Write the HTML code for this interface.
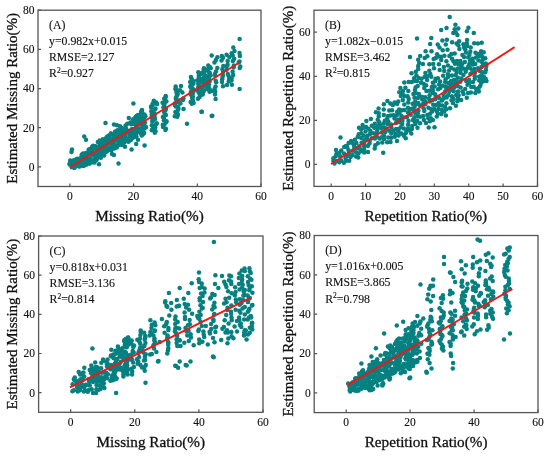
<!DOCTYPE html><html><head><meta charset="utf-8"><style>html,body{margin:0;padding:0;background:#fff;width:550px;height:457px;overflow:hidden}svg{display:block}</style></head><body><svg width="550" height="457" viewBox="0 0 550 457">
<rect width="550" height="457" fill="#fff"/>
<g fill="#068080"><circle cx="107.9" cy="148.5" r="2.25"/><circle cx="115.9" cy="137.3" r="2.25"/><circle cx="116.9" cy="135.9" r="2.25"/><circle cx="100.0" cy="155.2" r="2.25"/><circle cx="137.3" cy="131.5" r="2.25"/><circle cx="145.2" cy="116.1" r="2.25"/><circle cx="122.3" cy="144.9" r="2.25"/><circle cx="74.0" cy="164.1" r="2.25"/><circle cx="143.8" cy="117.8" r="2.25"/><circle cx="108.9" cy="149.2" r="2.25"/><circle cx="117.4" cy="130.2" r="2.25"/><circle cx="115.9" cy="138.3" r="2.25"/><circle cx="104.4" cy="152.4" r="2.25"/><circle cx="113.7" cy="141.6" r="2.25"/><circle cx="96.0" cy="148.6" r="2.25"/><circle cx="76.1" cy="159.5" r="2.25"/><circle cx="98.0" cy="147.9" r="2.25"/><circle cx="71.3" cy="162.0" r="2.25"/><circle cx="138.8" cy="121.7" r="2.25"/><circle cx="135.4" cy="130.1" r="2.25"/><circle cx="88.8" cy="149.5" r="2.25"/><circle cx="110.9" cy="133.4" r="2.25"/><circle cx="109.5" cy="137.6" r="2.25"/><circle cx="74.5" cy="167.7" r="2.25"/><circle cx="124.2" cy="134.7" r="2.25"/><circle cx="138.7" cy="128.8" r="2.25"/><circle cx="93.2" cy="154.7" r="2.25"/><circle cx="93.3" cy="155.4" r="2.25"/><circle cx="114.4" cy="137.1" r="2.25"/><circle cx="117.6" cy="132.7" r="2.25"/><circle cx="83.2" cy="153.4" r="2.25"/><circle cx="113.7" cy="135.1" r="2.25"/><circle cx="105.0" cy="140.4" r="2.25"/><circle cx="112.5" cy="141.3" r="2.25"/><circle cx="116.8" cy="147.4" r="2.25"/><circle cx="115.1" cy="138.5" r="2.25"/><circle cx="145.7" cy="126.9" r="2.25"/><circle cx="74.4" cy="167.7" r="2.25"/><circle cx="141.3" cy="113.8" r="2.25"/><circle cx="130.4" cy="131.6" r="2.25"/><circle cx="133.6" cy="137.2" r="2.25"/><circle cx="113.3" cy="137.2" r="2.25"/><circle cx="138.4" cy="123.9" r="2.25"/><circle cx="72.4" cy="166.3" r="2.25"/><circle cx="138.1" cy="131.6" r="2.25"/><circle cx="122.5" cy="134.3" r="2.25"/><circle cx="99.6" cy="144.0" r="2.25"/><circle cx="92.9" cy="146.2" r="2.25"/><circle cx="139.2" cy="119.5" r="2.25"/><circle cx="123.3" cy="134.7" r="2.25"/><circle cx="116.4" cy="138.1" r="2.25"/><circle cx="109.0" cy="135.6" r="2.25"/><circle cx="105.0" cy="145.5" r="2.25"/><circle cx="140.9" cy="133.3" r="2.25"/><circle cx="130.4" cy="122.7" r="2.25"/><circle cx="136.7" cy="117.8" r="2.25"/><circle cx="102.4" cy="144.6" r="2.25"/><circle cx="77.2" cy="161.5" r="2.25"/><circle cx="111.2" cy="148.0" r="2.25"/><circle cx="87.8" cy="153.5" r="2.25"/><circle cx="143.6" cy="115.6" r="2.25"/><circle cx="127.3" cy="138.8" r="2.25"/><circle cx="105.0" cy="152.4" r="2.25"/><circle cx="110.2" cy="139.8" r="2.25"/><circle cx="82.0" cy="155.2" r="2.25"/><circle cx="89.0" cy="159.5" r="2.25"/><circle cx="83.5" cy="154.9" r="2.25"/><circle cx="80.9" cy="158.6" r="2.25"/><circle cx="125.6" cy="125.6" r="2.25"/><circle cx="91.5" cy="153.0" r="2.25"/><circle cx="85.4" cy="162.5" r="2.25"/><circle cx="107.1" cy="150.9" r="2.25"/><circle cx="73.8" cy="160.6" r="2.25"/><circle cx="139.0" cy="129.8" r="2.25"/><circle cx="84.2" cy="165.4" r="2.25"/><circle cx="141.1" cy="132.3" r="2.25"/><circle cx="96.0" cy="156.4" r="2.25"/><circle cx="118.3" cy="140.5" r="2.25"/><circle cx="85.2" cy="162.0" r="2.25"/><circle cx="111.1" cy="150.6" r="2.25"/><circle cx="122.8" cy="129.2" r="2.25"/><circle cx="131.2" cy="124.3" r="2.25"/><circle cx="103.3" cy="153.1" r="2.25"/><circle cx="71.3" cy="164.7" r="2.25"/><circle cx="133.8" cy="130.7" r="2.25"/><circle cx="140.3" cy="122.5" r="2.25"/><circle cx="116.2" cy="134.6" r="2.25"/><circle cx="137.5" cy="117.8" r="2.25"/><circle cx="93.3" cy="145.7" r="2.25"/><circle cx="118.6" cy="136.9" r="2.25"/><circle cx="74.2" cy="162.3" r="2.25"/><circle cx="106.2" cy="151.8" r="2.25"/><circle cx="81.8" cy="159.4" r="2.25"/><circle cx="124.0" cy="132.1" r="2.25"/><circle cx="131.6" cy="134.1" r="2.25"/><circle cx="122.6" cy="135.7" r="2.25"/><circle cx="102.0" cy="151.6" r="2.25"/><circle cx="71.8" cy="167.2" r="2.25"/><circle cx="140.4" cy="131.9" r="2.25"/><circle cx="132.1" cy="129.6" r="2.25"/><circle cx="134.0" cy="123.0" r="2.25"/><circle cx="120.5" cy="132.7" r="2.25"/><circle cx="119.3" cy="138.2" r="2.25"/><circle cx="145.3" cy="116.5" r="2.25"/><circle cx="144.9" cy="127.5" r="2.25"/><circle cx="115.4" cy="135.7" r="2.25"/><circle cx="123.9" cy="131.2" r="2.25"/><circle cx="117.5" cy="138.6" r="2.25"/><circle cx="114.1" cy="147.6" r="2.25"/><circle cx="130.9" cy="134.0" r="2.25"/><circle cx="105.0" cy="149.8" r="2.25"/><circle cx="138.7" cy="119.5" r="2.25"/><circle cx="96.0" cy="159.3" r="2.25"/><circle cx="76.5" cy="165.5" r="2.25"/><circle cx="119.0" cy="133.6" r="2.25"/><circle cx="73.3" cy="162.3" r="2.25"/><circle cx="138.1" cy="128.2" r="2.25"/><circle cx="69.7" cy="163.6" r="2.25"/><circle cx="121.2" cy="130.6" r="2.25"/><circle cx="85.6" cy="161.5" r="2.25"/><circle cx="90.4" cy="149.0" r="2.25"/><circle cx="119.4" cy="137.0" r="2.25"/><circle cx="139.3" cy="131.0" r="2.25"/><circle cx="123.1" cy="136.5" r="2.25"/><circle cx="114.3" cy="148.2" r="2.25"/><circle cx="104.1" cy="155.5" r="2.25"/><circle cx="130.8" cy="122.4" r="2.25"/><circle cx="70.2" cy="160.4" r="2.25"/><circle cx="118.9" cy="142.2" r="2.25"/><circle cx="143.5" cy="128.1" r="2.25"/><circle cx="135.2" cy="134.5" r="2.25"/><circle cx="99.2" cy="153.7" r="2.25"/><circle cx="82.3" cy="154.5" r="2.25"/><circle cx="111.6" cy="148.7" r="2.25"/><circle cx="127.6" cy="130.8" r="2.25"/><circle cx="132.7" cy="137.8" r="2.25"/><circle cx="132.9" cy="123.6" r="2.25"/><circle cx="129.8" cy="135.9" r="2.25"/><circle cx="101.2" cy="145.6" r="2.25"/><circle cx="96.0" cy="159.1" r="2.25"/><circle cx="135.9" cy="125.3" r="2.25"/><circle cx="92.4" cy="161.4" r="2.25"/><circle cx="113.0" cy="146.4" r="2.25"/><circle cx="104.2" cy="143.3" r="2.25"/><circle cx="75.1" cy="161.2" r="2.25"/><circle cx="94.7" cy="146.8" r="2.25"/><circle cx="78.5" cy="165.5" r="2.25"/><circle cx="99.7" cy="140.6" r="2.25"/><circle cx="141.2" cy="117.1" r="2.25"/><circle cx="139.1" cy="129.5" r="2.25"/><circle cx="84.3" cy="153.8" r="2.25"/><circle cx="107.4" cy="138.8" r="2.25"/><circle cx="123.4" cy="143.2" r="2.25"/><circle cx="74.2" cy="165.8" r="2.25"/><circle cx="129.7" cy="131.8" r="2.25"/><circle cx="130.7" cy="137.4" r="2.25"/><circle cx="103.8" cy="141.3" r="2.25"/><circle cx="136.9" cy="127.0" r="2.25"/><circle cx="136.1" cy="134.6" r="2.25"/><circle cx="95.2" cy="158.6" r="2.25"/><circle cx="71.2" cy="163.7" r="2.25"/><circle cx="99.9" cy="155.2" r="2.25"/><circle cx="135.4" cy="117.6" r="2.25"/><circle cx="125.9" cy="128.3" r="2.25"/><circle cx="100.5" cy="151.4" r="2.25"/><circle cx="90.2" cy="158.4" r="2.25"/><circle cx="127.3" cy="131.9" r="2.25"/><circle cx="131.4" cy="133.4" r="2.25"/><circle cx="84.3" cy="156.9" r="2.25"/><circle cx="113.2" cy="143.6" r="2.25"/><circle cx="124.7" cy="134.1" r="2.25"/><circle cx="117.7" cy="131.3" r="2.25"/><circle cx="125.1" cy="136.3" r="2.25"/><circle cx="121.6" cy="127.8" r="2.25"/><circle cx="130.2" cy="137.4" r="2.25"/><circle cx="139.5" cy="119.7" r="2.25"/><circle cx="104.4" cy="145.7" r="2.25"/><circle cx="91.9" cy="147.3" r="2.25"/><circle cx="132.1" cy="129.4" r="2.25"/><circle cx="144.2" cy="126.5" r="2.25"/><circle cx="96.6" cy="160.1" r="2.25"/><circle cx="115.0" cy="132.2" r="2.25"/><circle cx="136.7" cy="116.0" r="2.25"/><circle cx="100.9" cy="155.5" r="2.25"/><circle cx="81.7" cy="154.7" r="2.25"/><circle cx="136.9" cy="121.4" r="2.25"/><circle cx="85.1" cy="160.7" r="2.25"/><circle cx="110.9" cy="147.3" r="2.25"/><circle cx="86.1" cy="160.7" r="2.25"/><circle cx="107.4" cy="144.6" r="2.25"/><circle cx="117.9" cy="140.8" r="2.25"/><circle cx="97.5" cy="153.9" r="2.25"/><circle cx="125.3" cy="138.7" r="2.25"/><circle cx="83.3" cy="155.9" r="2.25"/><circle cx="110.2" cy="142.2" r="2.25"/><circle cx="116.6" cy="132.2" r="2.25"/><circle cx="113.4" cy="144.2" r="2.25"/><circle cx="94.3" cy="154.6" r="2.25"/><circle cx="87.6" cy="162.8" r="2.25"/><circle cx="83.4" cy="165.8" r="2.25"/><circle cx="132.5" cy="124.0" r="2.25"/><circle cx="139.8" cy="129.2" r="2.25"/><circle cx="77.4" cy="161.7" r="2.25"/><circle cx="102.8" cy="146.0" r="2.25"/><circle cx="139.0" cy="118.7" r="2.25"/><circle cx="94.5" cy="154.3" r="2.25"/><circle cx="82.6" cy="161.0" r="2.25"/><circle cx="107.0" cy="142.2" r="2.25"/><circle cx="142.3" cy="126.6" r="2.25"/><circle cx="114.8" cy="146.3" r="2.25"/><circle cx="103.0" cy="139.5" r="2.25"/><circle cx="71.7" cy="163.2" r="2.25"/><circle cx="122.7" cy="136.2" r="2.25"/><circle cx="112.8" cy="147.0" r="2.25"/><circle cx="139.8" cy="122.1" r="2.25"/><circle cx="124.2" cy="134.3" r="2.25"/><circle cx="106.2" cy="140.0" r="2.25"/><circle cx="77.1" cy="158.8" r="2.25"/><circle cx="132.1" cy="123.5" r="2.25"/><circle cx="122.0" cy="144.4" r="2.25"/><circle cx="69.6" cy="164.5" r="2.25"/><circle cx="135.9" cy="116.7" r="2.25"/><circle cx="143.6" cy="117.5" r="2.25"/><circle cx="141.3" cy="117.5" r="2.25"/><circle cx="85.9" cy="155.8" r="2.25"/><circle cx="84.4" cy="165.0" r="2.25"/><circle cx="142.5" cy="115.7" r="2.25"/><circle cx="133.0" cy="136.1" r="2.25"/><circle cx="137.8" cy="121.5" r="2.25"/><circle cx="108.6" cy="149.3" r="2.25"/><circle cx="92.2" cy="162.2" r="2.25"/><circle cx="144.0" cy="117.0" r="2.25"/><circle cx="111.5" cy="150.0" r="2.25"/><circle cx="128.6" cy="141.7" r="2.25"/><circle cx="136.2" cy="118.7" r="2.25"/><circle cx="127.5" cy="140.1" r="2.25"/><circle cx="138.2" cy="115.5" r="2.25"/><circle cx="89.0" cy="150.0" r="2.25"/><circle cx="97.9" cy="142.1" r="2.25"/><circle cx="125.0" cy="132.1" r="2.25"/><circle cx="142.9" cy="121.3" r="2.25"/><circle cx="89.6" cy="159.8" r="2.25"/><circle cx="142.3" cy="116.7" r="2.25"/><circle cx="110.0" cy="143.4" r="2.25"/><circle cx="92.8" cy="153.2" r="2.25"/><circle cx="97.1" cy="155.0" r="2.25"/><circle cx="101.2" cy="152.5" r="2.25"/><circle cx="122.9" cy="134.0" r="2.25"/><circle cx="129.3" cy="134.7" r="2.25"/><circle cx="117.9" cy="133.4" r="2.25"/><circle cx="107.6" cy="148.7" r="2.25"/><circle cx="94.5" cy="146.8" r="2.25"/><circle cx="93.2" cy="154.5" r="2.25"/><circle cx="125.0" cy="128.7" r="2.25"/><circle cx="96.0" cy="155.9" r="2.25"/><circle cx="130.9" cy="139.9" r="2.25"/><circle cx="95.4" cy="147.3" r="2.25"/><circle cx="79.7" cy="163.4" r="2.25"/><circle cx="112.4" cy="143.1" r="2.25"/><circle cx="98.9" cy="147.2" r="2.25"/><circle cx="103.2" cy="142.1" r="2.25"/><circle cx="135.3" cy="130.0" r="2.25"/><circle cx="104.4" cy="147.4" r="2.25"/><circle cx="144.4" cy="128.6" r="2.25"/><circle cx="119.8" cy="138.5" r="2.25"/><circle cx="83.9" cy="159.8" r="2.25"/><circle cx="101.5" cy="147.3" r="2.25"/><circle cx="133.0" cy="131.0" r="2.25"/><circle cx="86.8" cy="154.1" r="2.25"/><circle cx="144.1" cy="122.2" r="2.25"/><circle cx="115.4" cy="131.5" r="2.25"/><circle cx="128.9" cy="140.6" r="2.25"/><circle cx="114.3" cy="148.3" r="2.25"/><circle cx="72.4" cy="161.3" r="2.25"/><circle cx="115.5" cy="131.9" r="2.25"/><circle cx="89.4" cy="163.7" r="2.25"/><circle cx="106.9" cy="148.3" r="2.25"/><circle cx="136.3" cy="136.2" r="2.25"/><circle cx="139.1" cy="121.3" r="2.25"/><circle cx="77.9" cy="165.1" r="2.25"/><circle cx="86.6" cy="152.8" r="2.25"/><circle cx="131.4" cy="129.6" r="2.25"/><circle cx="133.1" cy="119.2" r="2.25"/><circle cx="119.9" cy="129.9" r="2.25"/><circle cx="114.8" cy="144.6" r="2.25"/><circle cx="142.8" cy="117.3" r="2.25"/><circle cx="128.8" cy="139.6" r="2.25"/><circle cx="142.7" cy="119.2" r="2.25"/><circle cx="135.1" cy="136.6" r="2.25"/><circle cx="119.5" cy="143.8" r="2.25"/><circle cx="91.7" cy="151.1" r="2.25"/><circle cx="119.9" cy="140.1" r="2.25"/><circle cx="90.2" cy="158.5" r="2.25"/><circle cx="74.5" cy="162.0" r="2.25"/><circle cx="141.3" cy="118.1" r="2.25"/><circle cx="83.7" cy="163.6" r="2.25"/><circle cx="118.9" cy="138.2" r="2.25"/><circle cx="133.7" cy="136.2" r="2.25"/><circle cx="92.8" cy="147.4" r="2.25"/><circle cx="91.3" cy="162.3" r="2.25"/><circle cx="119.7" cy="137.2" r="2.25"/><circle cx="79.1" cy="166.6" r="2.25"/><circle cx="119.4" cy="144.8" r="2.25"/><circle cx="120.7" cy="133.4" r="2.25"/><circle cx="110.5" cy="139.4" r="2.25"/><circle cx="88.9" cy="154.6" r="2.25"/><circle cx="74.5" cy="165.4" r="2.25"/><circle cx="110.9" cy="133.8" r="2.25"/><circle cx="116.8" cy="146.5" r="2.25"/><circle cx="79.8" cy="166.2" r="2.25"/><circle cx="136.8" cy="117.6" r="2.25"/><circle cx="127.4" cy="123.8" r="2.25"/><circle cx="121.9" cy="136.3" r="2.25"/><circle cx="97.1" cy="150.0" r="2.25"/><circle cx="127.7" cy="141.0" r="2.25"/><circle cx="82.8" cy="165.8" r="2.25"/><circle cx="133.4" cy="133.0" r="2.25"/><circle cx="122.6" cy="138.0" r="2.25"/><circle cx="91.9" cy="147.6" r="2.25"/><circle cx="98.9" cy="150.7" r="2.25"/><circle cx="93.1" cy="149.1" r="2.25"/><circle cx="115.3" cy="145.9" r="2.25"/><circle cx="87.1" cy="158.3" r="2.25"/><circle cx="73.6" cy="160.6" r="2.25"/><circle cx="137.5" cy="115.6" r="2.25"/><circle cx="132.1" cy="135.0" r="2.25"/><circle cx="118.8" cy="143.0" r="2.25"/><circle cx="102.6" cy="150.6" r="2.25"/><circle cx="144.7" cy="122.9" r="2.25"/><circle cx="80.8" cy="160.0" r="2.25"/><circle cx="123.5" cy="139.5" r="2.25"/><circle cx="143.6" cy="114.8" r="2.25"/><circle cx="143.7" cy="124.6" r="2.25"/><circle cx="141.2" cy="111.8" r="2.25"/><circle cx="123.1" cy="141.1" r="2.25"/><circle cx="79.9" cy="158.5" r="2.25"/><circle cx="97.6" cy="157.5" r="2.25"/><circle cx="84.1" cy="154.6" r="2.25"/><circle cx="140.3" cy="115.0" r="2.25"/><circle cx="124.6" cy="136.4" r="2.25"/><circle cx="122.4" cy="130.4" r="2.25"/><circle cx="102.9" cy="139.4" r="2.25"/><circle cx="107.3" cy="136.4" r="2.25"/><circle cx="118.4" cy="132.6" r="2.25"/><circle cx="88.9" cy="159.2" r="2.25"/><circle cx="77.8" cy="160.2" r="2.25"/><circle cx="86.1" cy="164.7" r="2.25"/><circle cx="123.7" cy="138.7" r="2.25"/><circle cx="93.1" cy="160.3" r="2.25"/><circle cx="140.3" cy="123.9" r="2.25"/><circle cx="145.8" cy="127.2" r="2.25"/><circle cx="98.8" cy="154.6" r="2.25"/><circle cx="77.7" cy="164.0" r="2.25"/><circle cx="117.1" cy="139.9" r="2.25"/><circle cx="142.5" cy="121.4" r="2.25"/><circle cx="97.4" cy="152.0" r="2.25"/><circle cx="124.7" cy="141.9" r="2.25"/><circle cx="95.6" cy="146.3" r="2.25"/><circle cx="106.1" cy="138.1" r="2.25"/><circle cx="103.5" cy="140.6" r="2.25"/><circle cx="138.5" cy="115.0" r="2.25"/><circle cx="91.2" cy="153.3" r="2.25"/><circle cx="142.0" cy="110.0" r="2.25"/><circle cx="141.9" cy="111.5" r="2.25"/><circle cx="141.3" cy="111.9" r="2.25"/><circle cx="144.4" cy="114.5" r="2.25"/><circle cx="143.7" cy="115.4" r="2.25"/><circle cx="140.9" cy="116.3" r="2.25"/><circle cx="143.3" cy="118.2" r="2.25"/><circle cx="142.5" cy="119.0" r="2.25"/><circle cx="142.3" cy="121.2" r="2.25"/><circle cx="144.5" cy="122.2" r="2.25"/><circle cx="141.2" cy="122.8" r="2.25"/><circle cx="143.3" cy="124.6" r="2.25"/><circle cx="142.9" cy="125.8" r="2.25"/><circle cx="143.0" cy="127.3" r="2.25"/><circle cx="143.6" cy="128.7" r="2.25"/><circle cx="141.9" cy="129.8" r="2.25"/><circle cx="142.1" cy="130.9" r="2.25"/><circle cx="144.1" cy="132.9" r="2.25"/><circle cx="143.0" cy="133.9" r="2.25"/><circle cx="153.8" cy="100.7" r="2.25"/><circle cx="156.3" cy="102.4" r="2.25"/><circle cx="152.8" cy="103.4" r="2.25"/><circle cx="157.0" cy="103.9" r="2.25"/><circle cx="152.7" cy="105.0" r="2.25"/><circle cx="151.1" cy="106.6" r="2.25"/><circle cx="151.2" cy="107.5" r="2.25"/><circle cx="155.5" cy="108.5" r="2.25"/><circle cx="154.7" cy="109.7" r="2.25"/><circle cx="151.3" cy="111.3" r="2.25"/><circle cx="152.1" cy="112.7" r="2.25"/><circle cx="154.8" cy="114.0" r="2.25"/><circle cx="151.7" cy="114.6" r="2.25"/><circle cx="151.9" cy="116.5" r="2.25"/><circle cx="154.6" cy="117.0" r="2.25"/><circle cx="152.1" cy="118.0" r="2.25"/><circle cx="155.0" cy="119.0" r="2.25"/><circle cx="152.5" cy="121.0" r="2.25"/><circle cx="152.4" cy="121.6" r="2.25"/><circle cx="156.7" cy="123.2" r="2.25"/><circle cx="156.2" cy="124.2" r="2.25"/><circle cx="151.8" cy="125.3" r="2.25"/><circle cx="153.7" cy="126.0" r="2.25"/><circle cx="155.2" cy="127.6" r="2.25"/><circle cx="152.9" cy="128.3" r="2.25"/><circle cx="151.8" cy="130.2" r="2.25"/><circle cx="155.5" cy="131.2" r="2.25"/><circle cx="165.7" cy="96.0" r="2.25"/><circle cx="165.7" cy="96.9" r="2.25"/><circle cx="164.2" cy="98.8" r="2.25"/><circle cx="165.5" cy="100.7" r="2.25"/><circle cx="166.4" cy="101.6" r="2.25"/><circle cx="162.6" cy="102.8" r="2.25"/><circle cx="164.3" cy="103.9" r="2.25"/><circle cx="164.4" cy="106.1" r="2.25"/><circle cx="163.4" cy="107.3" r="2.25"/><circle cx="165.9" cy="108.7" r="2.25"/><circle cx="165.5" cy="109.9" r="2.25"/><circle cx="164.6" cy="111.0" r="2.25"/><circle cx="164.1" cy="112.1" r="2.25"/><circle cx="164.9" cy="114.5" r="2.25"/><circle cx="165.9" cy="114.9" r="2.25"/><circle cx="162.9" cy="117.0" r="2.25"/><circle cx="164.0" cy="118.0" r="2.25"/><circle cx="163.9" cy="120.2" r="2.25"/><circle cx="166.5" cy="121.3" r="2.25"/><circle cx="166.2" cy="121.9" r="2.25"/><circle cx="164.4" cy="124.5" r="2.25"/><circle cx="162.8" cy="124.8" r="2.25"/><circle cx="163.0" cy="127.0" r="2.25"/><circle cx="165.9" cy="128.8" r="2.25"/><circle cx="175.7" cy="86.4" r="2.25"/><circle cx="175.6" cy="88.4" r="2.25"/><circle cx="175.7" cy="89.4" r="2.25"/><circle cx="177.1" cy="90.5" r="2.25"/><circle cx="176.5" cy="92.5" r="2.25"/><circle cx="177.6" cy="93.5" r="2.25"/><circle cx="177.5" cy="94.8" r="2.25"/><circle cx="176.7" cy="96.1" r="2.25"/><circle cx="175.9" cy="97.9" r="2.25"/><circle cx="175.9" cy="99.0" r="2.25"/><circle cx="178.6" cy="100.5" r="2.25"/><circle cx="178.5" cy="102.5" r="2.25"/><circle cx="175.1" cy="103.3" r="2.25"/><circle cx="174.9" cy="104.9" r="2.25"/><circle cx="175.7" cy="106.5" r="2.25"/><circle cx="178.1" cy="107.1" r="2.25"/><circle cx="178.3" cy="108.2" r="2.25"/><circle cx="178.1" cy="109.8" r="2.25"/><circle cx="175.4" cy="112.0" r="2.25"/><circle cx="177.5" cy="113.4" r="2.25"/><circle cx="177.8" cy="115.0" r="2.25"/><circle cx="174.8" cy="116.2" r="2.25"/><circle cx="177.2" cy="116.8" r="2.25"/><circle cx="181.0" cy="86.1" r="2.25"/><circle cx="180.0" cy="90.3" r="2.25"/><circle cx="182.4" cy="92.5" r="2.25"/><circle cx="183.4" cy="98.5" r="2.25"/><circle cx="182.9" cy="99.9" r="2.25"/><circle cx="180.4" cy="103.4" r="2.25"/><circle cx="183.5" cy="108.9" r="2.25"/><circle cx="190.9" cy="77.0" r="2.25"/><circle cx="191.5" cy="78.8" r="2.25"/><circle cx="192.2" cy="80.2" r="2.25"/><circle cx="193.0" cy="81.0" r="2.25"/><circle cx="190.2" cy="81.9" r="2.25"/><circle cx="193.4" cy="83.6" r="2.25"/><circle cx="191.9" cy="85.4" r="2.25"/><circle cx="190.3" cy="86.2" r="2.25"/><circle cx="190.8" cy="87.8" r="2.25"/><circle cx="193.4" cy="89.3" r="2.25"/><circle cx="193.5" cy="91.0" r="2.25"/><circle cx="190.8" cy="92.0" r="2.25"/><circle cx="192.8" cy="93.7" r="2.25"/><circle cx="190.8" cy="94.5" r="2.25"/><circle cx="191.8" cy="95.6" r="2.25"/><circle cx="192.9" cy="97.1" r="2.25"/><circle cx="192.1" cy="98.1" r="2.25"/><circle cx="192.8" cy="100.2" r="2.25"/><circle cx="190.6" cy="102.1" r="2.25"/><circle cx="193.6" cy="103.1" r="2.25"/><circle cx="191.8" cy="103.8" r="2.25"/><circle cx="198.3" cy="72.2" r="2.25"/><circle cx="199.4" cy="73.7" r="2.25"/><circle cx="200.9" cy="73.9" r="2.25"/><circle cx="198.8" cy="75.7" r="2.25"/><circle cx="198.9" cy="77.4" r="2.25"/><circle cx="200.2" cy="78.6" r="2.25"/><circle cx="199.0" cy="80.3" r="2.25"/><circle cx="197.1" cy="80.4" r="2.25"/><circle cx="199.4" cy="82.2" r="2.25"/><circle cx="198.5" cy="83.2" r="2.25"/><circle cx="198.6" cy="84.4" r="2.25"/><circle cx="198.9" cy="86.2" r="2.25"/><circle cx="198.3" cy="87.6" r="2.25"/><circle cx="198.1" cy="89.2" r="2.25"/><circle cx="197.2" cy="90.3" r="2.25"/><circle cx="199.5" cy="92.0" r="2.25"/><circle cx="198.7" cy="92.6" r="2.25"/><circle cx="200.1" cy="94.6" r="2.25"/><circle cx="200.3" cy="95.3" r="2.25"/><circle cx="199.5" cy="97.1" r="2.25"/><circle cx="198.0" cy="98.7" r="2.25"/><circle cx="204.0" cy="68.3" r="2.25"/><circle cx="203.7" cy="69.6" r="2.25"/><circle cx="204.4" cy="70.9" r="2.25"/><circle cx="203.3" cy="72.4" r="2.25"/><circle cx="201.9" cy="73.0" r="2.25"/><circle cx="204.7" cy="74.9" r="2.25"/><circle cx="204.9" cy="75.5" r="2.25"/><circle cx="203.7" cy="77.9" r="2.25"/><circle cx="204.4" cy="78.7" r="2.25"/><circle cx="205.0" cy="80.7" r="2.25"/><circle cx="201.6" cy="80.9" r="2.25"/><circle cx="202.7" cy="82.8" r="2.25"/><circle cx="204.9" cy="84.6" r="2.25"/><circle cx="205.0" cy="85.6" r="2.25"/><circle cx="202.8" cy="86.8" r="2.25"/><circle cx="201.9" cy="88.9" r="2.25"/><circle cx="202.3" cy="89.6" r="2.25"/><circle cx="204.1" cy="90.5" r="2.25"/><circle cx="203.1" cy="91.9" r="2.25"/><circle cx="202.0" cy="94.0" r="2.25"/><circle cx="202.7" cy="94.5" r="2.25"/><circle cx="208.3" cy="65.5" r="2.25"/><circle cx="210.0" cy="67.3" r="2.25"/><circle cx="210.6" cy="68.3" r="2.25"/><circle cx="207.8" cy="69.3" r="2.25"/><circle cx="207.6" cy="70.7" r="2.25"/><circle cx="209.8" cy="73.0" r="2.25"/><circle cx="209.3" cy="74.1" r="2.25"/><circle cx="210.6" cy="75.4" r="2.25"/><circle cx="208.2" cy="76.8" r="2.25"/><circle cx="208.2" cy="77.5" r="2.25"/><circle cx="208.9" cy="78.9" r="2.25"/><circle cx="208.8" cy="79.7" r="2.25"/><circle cx="209.6" cy="81.6" r="2.25"/><circle cx="208.2" cy="83.4" r="2.25"/><circle cx="209.0" cy="84.4" r="2.25"/><circle cx="207.5" cy="86.0" r="2.25"/><circle cx="207.3" cy="86.6" r="2.25"/><circle cx="209.3" cy="88.3" r="2.25"/><circle cx="207.1" cy="89.1" r="2.25"/><circle cx="209.8" cy="90.8" r="2.25"/><circle cx="209.5" cy="91.8" r="2.25"/><circle cx="217.4" cy="57.2" r="2.25"/><circle cx="215.9" cy="60.1" r="2.25"/><circle cx="214.5" cy="62.5" r="2.25"/><circle cx="217.3" cy="68.1" r="2.25"/><circle cx="216.0" cy="71.4" r="2.25"/><circle cx="214.9" cy="73.9" r="2.25"/><circle cx="215.2" cy="75.5" r="2.25"/><circle cx="215.7" cy="80.7" r="2.25"/><circle cx="216.2" cy="82.2" r="2.25"/><circle cx="215.6" cy="86.6" r="2.25"/><circle cx="214.7" cy="88.8" r="2.25"/><circle cx="215.2" cy="91.4" r="2.25"/><circle cx="215.0" cy="94.5" r="2.25"/><circle cx="221.8" cy="55.9" r="2.25"/><circle cx="223.0" cy="57.8" r="2.25"/><circle cx="221.5" cy="60.5" r="2.25"/><circle cx="223.3" cy="65.9" r="2.25"/><circle cx="222.4" cy="69.2" r="2.25"/><circle cx="223.1" cy="71.8" r="2.25"/><circle cx="222.9" cy="74.9" r="2.25"/><circle cx="222.5" cy="77.0" r="2.25"/><circle cx="222.2" cy="79.2" r="2.25"/><circle cx="222.0" cy="81.9" r="2.25"/><circle cx="223.0" cy="86.2" r="2.25"/><circle cx="226.6" cy="54.8" r="2.25"/><circle cx="229.4" cy="57.0" r="2.25"/><circle cx="227.7" cy="61.0" r="2.25"/><circle cx="227.6" cy="64.7" r="2.25"/><circle cx="226.8" cy="66.3" r="2.25"/><circle cx="226.6" cy="69.7" r="2.25"/><circle cx="227.8" cy="74.0" r="2.25"/><circle cx="228.6" cy="75.9" r="2.25"/><circle cx="229.1" cy="79.0" r="2.25"/><circle cx="228.7" cy="81.5" r="2.25"/><circle cx="227.0" cy="84.9" r="2.25"/><circle cx="233.3" cy="47.6" r="2.25"/><circle cx="234.5" cy="50.9" r="2.25"/><circle cx="231.7" cy="53.2" r="2.25"/><circle cx="232.7" cy="55.4" r="2.25"/><circle cx="234.2" cy="58.8" r="2.25"/><circle cx="232.8" cy="61.0" r="2.25"/><circle cx="233.9" cy="65.4" r="2.25"/><circle cx="233.6" cy="67.4" r="2.25"/><circle cx="232.6" cy="71.8" r="2.25"/><circle cx="233.2" cy="75.0" r="2.25"/><circle cx="231.7" cy="78.1" r="2.25"/><circle cx="231.5" cy="80.5" r="2.25"/><circle cx="231.9" cy="84.8" r="2.25"/><circle cx="239.5" cy="52.9" r="2.25"/><circle cx="239.9" cy="56.1" r="2.25"/><circle cx="239.5" cy="61.4" r="2.25"/><circle cx="238.8" cy="62.4" r="2.25"/><circle cx="240.3" cy="66.4" r="2.25"/><circle cx="239.7" cy="68.0" r="2.25"/><circle cx="72.0" cy="149.5" r="2.25"/><circle cx="71.5" cy="152.0" r="2.25"/><circle cx="84.2" cy="136.5" r="2.25"/><circle cx="86.0" cy="139.8" r="2.25"/><circle cx="105.5" cy="123.1" r="2.25"/><circle cx="133.4" cy="103.4" r="2.25"/><circle cx="114.0" cy="124.4" r="2.25"/><circle cx="117.0" cy="125.2" r="2.25"/><circle cx="120.0" cy="126.2" r="2.25"/><circle cx="128.8" cy="117.9" r="2.25"/><circle cx="118.5" cy="163.4" r="2.25"/><circle cx="99.0" cy="164.3" r="2.25"/><circle cx="94.4" cy="162.5" r="2.25"/><circle cx="100.9" cy="157.8" r="2.25"/><circle cx="112.0" cy="154.1" r="2.25"/><circle cx="113.9" cy="155.0" r="2.25"/><circle cx="125.0" cy="146.7" r="2.25"/><circle cx="131.6" cy="149.5" r="2.25"/><circle cx="136.2" cy="143.9" r="2.25"/><circle cx="144.6" cy="145.4" r="2.25"/><circle cx="141.8" cy="135.5" r="2.25"/><circle cx="138.0" cy="139.8" r="2.25"/><circle cx="154.8" cy="132.8" r="2.25"/><circle cx="187.0" cy="123.7" r="2.25"/><circle cx="201.5" cy="111.8" r="2.25"/><circle cx="212.3" cy="115.7" r="2.25"/><circle cx="165.4" cy="130.0" r="2.25"/><circle cx="239.6" cy="38.9" r="2.25"/><circle cx="239.6" cy="89.0" r="2.25"/><circle cx="211.7" cy="55.6" r="2.25"/><circle cx="211.7" cy="91.0" r="2.25"/><circle cx="215.6" cy="98.9" r="2.25"/><circle cx="201.8" cy="111.7" r="2.25"/><circle cx="211.7" cy="116.0" r="2.25"/></g>
<line x1="70.2" y1="167.0" x2="239.8" y2="62.3" stroke="#f41414" stroke-width="1.9"/>
<rect x="38.0" y="10.2" width="223.0" height="176.3" fill="none" stroke="#555" stroke-width="1.3"/>
<path d="M69.9 186.5v-3 M133.6 186.5v-3 M197.3 186.5v-3 M261.0 186.5v-3 M38.0 166.9h3 M38.0 127.7h3 M38.0 88.6h3 M38.0 49.4h3 M38.0 10.2h3" stroke="#555" stroke-width="1.2" fill="none"/>
<g font-family="'Liberation Serif','Times New Roman',serif" font-size="11.5" fill="#111" stroke="#111" stroke-width="0.12"><text x="69.9" y="199.7" text-anchor="middle">0</text><text x="133.6" y="199.7" text-anchor="middle">20</text><text x="197.3" y="199.7" text-anchor="middle">40</text><text x="261.0" y="199.7" text-anchor="middle">60</text><text x="34.5" y="170.7" text-anchor="end">0</text><text x="34.5" y="131.5" text-anchor="end">20</text><text x="34.5" y="92.4" text-anchor="end">40</text><text x="34.5" y="53.2" text-anchor="end">60</text><text x="34.5" y="14.0" text-anchor="end">80</text></g>
<text font-family="'Liberation Serif','Times New Roman',serif" font-size="15.2" fill="#111" stroke="#111" stroke-width="0.3" x="149.5" y="221.0" text-anchor="middle">Missing Ratio(%)</text>
<text font-family="'Liberation Serif','Times New Roman',serif" font-size="15.0" fill="#111" stroke="#111" stroke-width="0.3" transform="translate(16.6,98.3) rotate(-90)" text-anchor="middle">Estimated Missing Ratio(%)</text>
<g font-family="'Liberation Serif','Times New Roman',serif" font-size="11.8" fill="#111" stroke="#111" stroke-width="0.12"><text x="49.0" y="28.7">(A)</text><text x="49.0" y="44.7">y=0.982x+0.015</text><text x="49.0" y="60.7">RMSE=2.127</text><text x="49.0" y="77.4">R<tspan font-size="7.5" dy="-4.5">2</tspan><tspan dy="4.5">=0.927</tspan></text></g>
<g fill="#068080"><circle cx="382.3" cy="142.6" r="2.25"/><circle cx="481.2" cy="75.4" r="2.25"/><circle cx="414.8" cy="121.7" r="2.25"/><circle cx="483.3" cy="81.2" r="2.25"/><circle cx="468.3" cy="66.5" r="2.25"/><circle cx="453.7" cy="91.2" r="2.25"/><circle cx="454.3" cy="69.4" r="2.25"/><circle cx="367.9" cy="145.9" r="2.25"/><circle cx="398.6" cy="135.5" r="2.25"/><circle cx="389.2" cy="130.8" r="2.25"/><circle cx="481.5" cy="67.1" r="2.25"/><circle cx="458.0" cy="98.1" r="2.25"/><circle cx="460.5" cy="72.8" r="2.25"/><circle cx="397.1" cy="111.9" r="2.25"/><circle cx="446.6" cy="97.5" r="2.25"/><circle cx="424.6" cy="77.1" r="2.25"/><circle cx="339.3" cy="162.2" r="2.25"/><circle cx="456.6" cy="43.5" r="2.25"/><circle cx="391.2" cy="137.7" r="2.25"/><circle cx="435.8" cy="96.7" r="2.25"/><circle cx="486.0" cy="69.8" r="2.25"/><circle cx="423.6" cy="108.2" r="2.25"/><circle cx="364.2" cy="152.4" r="2.25"/><circle cx="485.3" cy="58.2" r="2.25"/><circle cx="417.7" cy="116.3" r="2.25"/><circle cx="435.2" cy="99.3" r="2.25"/><circle cx="420.1" cy="105.4" r="2.25"/><circle cx="426.4" cy="91.1" r="2.25"/><circle cx="385.2" cy="132.0" r="2.25"/><circle cx="359.2" cy="146.3" r="2.25"/><circle cx="363.8" cy="135.8" r="2.25"/><circle cx="354.1" cy="146.0" r="2.25"/><circle cx="398.3" cy="101.4" r="2.25"/><circle cx="455.4" cy="24.7" r="2.25"/><circle cx="361.2" cy="138.0" r="2.25"/><circle cx="426.0" cy="123.1" r="2.25"/><circle cx="417.8" cy="98.0" r="2.25"/><circle cx="394.5" cy="118.4" r="2.25"/><circle cx="434.0" cy="68.3" r="2.25"/><circle cx="401.9" cy="110.3" r="2.25"/><circle cx="461.4" cy="78.4" r="2.25"/><circle cx="403.9" cy="128.4" r="2.25"/><circle cx="470.9" cy="92.6" r="2.25"/><circle cx="446.3" cy="109.2" r="2.25"/><circle cx="478.0" cy="68.3" r="2.25"/><circle cx="439.5" cy="47.6" r="2.25"/><circle cx="441.8" cy="109.9" r="2.25"/><circle cx="428.3" cy="118.3" r="2.25"/><circle cx="408.5" cy="121.0" r="2.25"/><circle cx="336.5" cy="160.9" r="2.25"/><circle cx="472.9" cy="64.5" r="2.25"/><circle cx="429.6" cy="95.3" r="2.25"/><circle cx="430.1" cy="44.0" r="2.25"/><circle cx="415.2" cy="113.1" r="2.25"/><circle cx="471.3" cy="87.1" r="2.25"/><circle cx="433.2" cy="104.7" r="2.25"/><circle cx="366.0" cy="127.0" r="2.25"/><circle cx="412.9" cy="120.0" r="2.25"/><circle cx="387.2" cy="142.3" r="2.25"/><circle cx="472.8" cy="61.6" r="2.25"/><circle cx="374.3" cy="127.7" r="2.25"/><circle cx="358.4" cy="153.5" r="2.25"/><circle cx="428.4" cy="107.7" r="2.25"/><circle cx="371.8" cy="125.7" r="2.25"/><circle cx="384.0" cy="139.1" r="2.25"/><circle cx="445.2" cy="81.9" r="2.25"/><circle cx="408.0" cy="107.8" r="2.25"/><circle cx="351.1" cy="141.1" r="2.25"/><circle cx="397.1" cy="104.0" r="2.25"/><circle cx="434.3" cy="109.1" r="2.25"/><circle cx="365.5" cy="131.4" r="2.25"/><circle cx="472.5" cy="58.7" r="2.25"/><circle cx="398.4" cy="131.5" r="2.25"/><circle cx="387.2" cy="118.7" r="2.25"/><circle cx="333.4" cy="161.1" r="2.25"/><circle cx="439.5" cy="105.3" r="2.25"/><circle cx="399.1" cy="122.2" r="2.25"/><circle cx="405.7" cy="133.2" r="2.25"/><circle cx="402.4" cy="121.0" r="2.25"/><circle cx="389.2" cy="110.6" r="2.25"/><circle cx="414.9" cy="89.9" r="2.25"/><circle cx="475.0" cy="72.7" r="2.25"/><circle cx="422.2" cy="99.5" r="2.25"/><circle cx="362.6" cy="125.0" r="2.25"/><circle cx="447.9" cy="74.2" r="2.25"/><circle cx="361.4" cy="133.2" r="2.25"/><circle cx="427.3" cy="76.2" r="2.25"/><circle cx="388.3" cy="121.5" r="2.25"/><circle cx="403.0" cy="91.0" r="2.25"/><circle cx="408.7" cy="99.0" r="2.25"/><circle cx="399.3" cy="92.3" r="2.25"/><circle cx="378.1" cy="125.7" r="2.25"/><circle cx="474.8" cy="78.8" r="2.25"/><circle cx="414.4" cy="117.2" r="2.25"/><circle cx="468.0" cy="93.1" r="2.25"/><circle cx="397.1" cy="119.9" r="2.25"/><circle cx="394.6" cy="102.5" r="2.25"/><circle cx="455.7" cy="75.0" r="2.25"/><circle cx="414.5" cy="97.7" r="2.25"/><circle cx="466.5" cy="68.9" r="2.25"/><circle cx="466.9" cy="31.2" r="2.25"/><circle cx="430.8" cy="118.3" r="2.25"/><circle cx="436.9" cy="111.4" r="2.25"/><circle cx="486.5" cy="81.1" r="2.25"/><circle cx="470.1" cy="60.4" r="2.25"/><circle cx="438.3" cy="56.4" r="2.25"/><circle cx="401.4" cy="115.9" r="2.25"/><circle cx="388.0" cy="115.9" r="2.25"/><circle cx="430.3" cy="74.1" r="2.25"/><circle cx="411.8" cy="108.7" r="2.25"/><circle cx="479.8" cy="70.9" r="2.25"/><circle cx="402.4" cy="93.8" r="2.25"/><circle cx="376.8" cy="136.4" r="2.25"/><circle cx="438.9" cy="64.3" r="2.25"/><circle cx="437.7" cy="44.6" r="2.25"/><circle cx="477.8" cy="53.9" r="2.25"/><circle cx="463.5" cy="94.0" r="2.25"/><circle cx="478.7" cy="88.1" r="2.25"/><circle cx="402.2" cy="124.1" r="2.25"/><circle cx="464.0" cy="56.9" r="2.25"/><circle cx="432.9" cy="90.2" r="2.25"/><circle cx="457.9" cy="68.5" r="2.25"/><circle cx="481.7" cy="78.4" r="2.25"/><circle cx="349.2" cy="160.8" r="2.25"/><circle cx="391.4" cy="127.5" r="2.25"/><circle cx="344.0" cy="153.5" r="2.25"/><circle cx="454.2" cy="87.6" r="2.25"/><circle cx="449.3" cy="91.7" r="2.25"/><circle cx="399.1" cy="109.5" r="2.25"/><circle cx="451.9" cy="75.6" r="2.25"/><circle cx="370.9" cy="118.9" r="2.25"/><circle cx="371.9" cy="138.2" r="2.25"/><circle cx="388.2" cy="137.6" r="2.25"/><circle cx="486.4" cy="66.0" r="2.25"/><circle cx="408.1" cy="124.7" r="2.25"/><circle cx="341.3" cy="150.5" r="2.25"/><circle cx="390.5" cy="142.1" r="2.25"/><circle cx="403.8" cy="117.5" r="2.25"/><circle cx="432.7" cy="93.1" r="2.25"/><circle cx="427.1" cy="80.1" r="2.25"/><circle cx="416.2" cy="104.3" r="2.25"/><circle cx="432.9" cy="82.8" r="2.25"/><circle cx="378.8" cy="113.3" r="2.25"/><circle cx="453.5" cy="61.3" r="2.25"/><circle cx="377.9" cy="143.2" r="2.25"/><circle cx="364.1" cy="149.5" r="2.25"/><circle cx="479.2" cy="80.6" r="2.25"/><circle cx="451.5" cy="100.3" r="2.25"/><circle cx="422.9" cy="64.0" r="2.25"/><circle cx="368.0" cy="152.1" r="2.25"/><circle cx="463.4" cy="44.2" r="2.25"/><circle cx="425.0" cy="101.2" r="2.25"/><circle cx="411.5" cy="73.2" r="2.25"/><circle cx="458.4" cy="45.2" r="2.25"/><circle cx="441.4" cy="114.0" r="2.25"/><circle cx="414.1" cy="78.2" r="2.25"/><circle cx="456.6" cy="81.3" r="2.25"/><circle cx="445.7" cy="86.6" r="2.25"/><circle cx="400.8" cy="127.2" r="2.25"/><circle cx="367.7" cy="135.7" r="2.25"/><circle cx="423.9" cy="119.9" r="2.25"/><circle cx="364.4" cy="140.3" r="2.25"/><circle cx="425.4" cy="73.1" r="2.25"/><circle cx="466.7" cy="43.2" r="2.25"/><circle cx="443.4" cy="98.4" r="2.25"/><circle cx="443.7" cy="95.8" r="2.25"/><circle cx="423.1" cy="115.9" r="2.25"/><circle cx="431.2" cy="76.7" r="2.25"/><circle cx="458.6" cy="95.2" r="2.25"/><circle cx="464.1" cy="47.5" r="2.25"/><circle cx="348.6" cy="142.9" r="2.25"/><circle cx="406.9" cy="117.2" r="2.25"/><circle cx="451.4" cy="54.0" r="2.25"/><circle cx="466.2" cy="80.9" r="2.25"/><circle cx="369.4" cy="143.6" r="2.25"/><circle cx="445.0" cy="92.1" r="2.25"/><circle cx="437.9" cy="78.2" r="2.25"/><circle cx="348.9" cy="153.0" r="2.25"/><circle cx="460.4" cy="60.9" r="2.25"/><circle cx="473.7" cy="86.8" r="2.25"/><circle cx="377.2" cy="130.9" r="2.25"/><circle cx="438.6" cy="103.0" r="2.25"/><circle cx="348.4" cy="149.9" r="2.25"/><circle cx="483.7" cy="76.4" r="2.25"/><circle cx="483.7" cy="52.3" r="2.25"/><circle cx="482.5" cy="57.0" r="2.25"/><circle cx="441.2" cy="59.9" r="2.25"/><circle cx="424.3" cy="111.1" r="2.25"/><circle cx="431.5" cy="51.3" r="2.25"/><circle cx="352.5" cy="150.8" r="2.25"/><circle cx="468.2" cy="57.2" r="2.25"/><circle cx="347.2" cy="156.0" r="2.25"/><circle cx="480.8" cy="54.2" r="2.25"/><circle cx="427.3" cy="56.3" r="2.25"/><circle cx="383.6" cy="123.4" r="2.25"/><circle cx="352.4" cy="155.1" r="2.25"/><circle cx="374.7" cy="148.6" r="2.25"/><circle cx="442.7" cy="50.3" r="2.25"/><circle cx="340.1" cy="156.3" r="2.25"/><circle cx="393.5" cy="115.2" r="2.25"/><circle cx="440.1" cy="81.6" r="2.25"/><circle cx="404.3" cy="104.4" r="2.25"/><circle cx="408.0" cy="112.6" r="2.25"/><circle cx="370.0" cy="134.0" r="2.25"/><circle cx="424.2" cy="88.1" r="2.25"/><circle cx="425.4" cy="104.1" r="2.25"/><circle cx="366.8" cy="138.6" r="2.25"/><circle cx="412.2" cy="126.0" r="2.25"/><circle cx="370.4" cy="131.1" r="2.25"/><circle cx="470.4" cy="73.9" r="2.25"/><circle cx="469.3" cy="64.0" r="2.25"/><circle cx="476.2" cy="89.0" r="2.25"/><circle cx="354.8" cy="139.8" r="2.25"/><circle cx="414.6" cy="106.8" r="2.25"/><circle cx="392.0" cy="110.2" r="2.25"/><circle cx="358.2" cy="157.6" r="2.25"/><circle cx="418.7" cy="78.1" r="2.25"/><circle cx="380.5" cy="124.9" r="2.25"/><circle cx="357.3" cy="148.0" r="2.25"/><circle cx="356.4" cy="143.1" r="2.25"/><circle cx="462.5" cy="91.5" r="2.25"/><circle cx="417.1" cy="120.7" r="2.25"/><circle cx="462.1" cy="64.0" r="2.25"/><circle cx="482.2" cy="72.3" r="2.25"/><circle cx="479.1" cy="76.7" r="2.25"/><circle cx="418.2" cy="59.8" r="2.25"/><circle cx="448.0" cy="77.1" r="2.25"/><circle cx="465.7" cy="71.7" r="2.25"/><circle cx="411.9" cy="129.0" r="2.25"/><circle cx="400.1" cy="119.3" r="2.25"/><circle cx="453.6" cy="99.0" r="2.25"/><circle cx="361.6" cy="142.7" r="2.25"/><circle cx="460.3" cy="81.8" r="2.25"/><circle cx="408.6" cy="81.9" r="2.25"/><circle cx="470.3" cy="51.8" r="2.25"/><circle cx="390.3" cy="103.6" r="2.25"/><circle cx="469.4" cy="54.9" r="2.25"/><circle cx="452.1" cy="42.2" r="2.25"/><circle cx="395.4" cy="133.6" r="2.25"/><circle cx="374.8" cy="123.8" r="2.25"/><circle cx="425.2" cy="97.3" r="2.25"/><circle cx="442.4" cy="40.4" r="2.25"/><circle cx="379.6" cy="138.5" r="2.25"/><circle cx="392.8" cy="104.9" r="2.25"/><circle cx="444.4" cy="55.7" r="2.25"/><circle cx="398.7" cy="128.9" r="2.25"/><circle cx="422.3" cy="97.1" r="2.25"/><circle cx="381.8" cy="137.2" r="2.25"/><circle cx="436.1" cy="104.9" r="2.25"/><circle cx="387.4" cy="101.0" r="2.25"/><circle cx="423.6" cy="83.7" r="2.25"/><circle cx="369.7" cy="140.9" r="2.25"/><circle cx="475.3" cy="92.9" r="2.25"/><circle cx="450.5" cy="84.6" r="2.25"/><circle cx="485.2" cy="72.2" r="2.25"/><circle cx="474.3" cy="69.1" r="2.25"/><circle cx="475.9" cy="57.4" r="2.25"/><circle cx="358.8" cy="134.2" r="2.25"/><circle cx="454.9" cy="63.8" r="2.25"/><circle cx="397.0" cy="141.0" r="2.25"/><circle cx="421.0" cy="82.8" r="2.25"/><circle cx="443.9" cy="66.9" r="2.25"/><circle cx="478.8" cy="91.6" r="2.25"/><circle cx="463.3" cy="68.4" r="2.25"/><circle cx="377.8" cy="128.4" r="2.25"/><circle cx="404.3" cy="82.5" r="2.25"/><circle cx="460.6" cy="87.6" r="2.25"/><circle cx="473.0" cy="82.0" r="2.25"/><circle cx="441.9" cy="100.5" r="2.25"/><circle cx="396.0" cy="123.0" r="2.25"/><circle cx="391.3" cy="133.4" r="2.25"/><circle cx="438.4" cy="109.0" r="2.25"/><circle cx="417.7" cy="113.3" r="2.25"/><circle cx="368.4" cy="128.8" r="2.25"/><circle cx="459.1" cy="41.2" r="2.25"/><circle cx="446.4" cy="103.2" r="2.25"/><circle cx="412.6" cy="103.7" r="2.25"/><circle cx="384.1" cy="127.6" r="2.25"/><circle cx="457.9" cy="86.3" r="2.25"/><circle cx="376.2" cy="133.9" r="2.25"/><circle cx="444.2" cy="111.6" r="2.25"/><circle cx="429.5" cy="90.8" r="2.25"/><circle cx="445.9" cy="115.4" r="2.25"/><circle cx="483.0" cy="64.0" r="2.25"/><circle cx="467.5" cy="84.8" r="2.25"/><circle cx="482.8" cy="59.5" r="2.25"/><circle cx="454.2" cy="79.7" r="2.25"/><circle cx="439.0" cy="97.9" r="2.25"/><circle cx="463.4" cy="74.9" r="2.25"/><circle cx="481.1" cy="51.3" r="2.25"/><circle cx="341.3" cy="160.6" r="2.25"/><circle cx="396.1" cy="128.9" r="2.25"/><circle cx="434.6" cy="86.4" r="2.25"/><circle cx="442.6" cy="85.7" r="2.25"/><circle cx="377.7" cy="119.7" r="2.25"/><circle cx="336.4" cy="153.9" r="2.25"/><circle cx="448.4" cy="82.9" r="2.25"/><circle cx="396.7" cy="115.5" r="2.25"/><circle cx="466.0" cy="52.5" r="2.25"/><circle cx="360.0" cy="149.0" r="2.25"/><circle cx="401.4" cy="133.6" r="2.25"/><circle cx="414.5" cy="80.8" r="2.25"/><circle cx="408.2" cy="102.5" r="2.25"/><circle cx="473.8" cy="33.0" r="2.25"/><circle cx="457.0" cy="61.0" r="2.25"/><circle cx="378.7" cy="116.5" r="2.25"/><circle cx="452.9" cy="102.9" r="2.25"/><circle cx="470.7" cy="47.4" r="2.25"/><circle cx="457.4" cy="34.9" r="2.25"/><circle cx="384.8" cy="120.8" r="2.25"/><circle cx="400.4" cy="88.0" r="2.25"/><circle cx="477.9" cy="43.5" r="2.25"/><circle cx="468.4" cy="27.7" r="2.25"/><circle cx="448.1" cy="95.3" r="2.25"/><circle cx="427.3" cy="115.1" r="2.25"/><circle cx="481.7" cy="42.8" r="2.25"/><circle cx="429.3" cy="64.2" r="2.25"/><circle cx="451.9" cy="96.2" r="2.25"/><circle cx="423.0" cy="104.0" r="2.25"/><circle cx="345.5" cy="158.1" r="2.25"/><circle cx="458.0" cy="91.5" r="2.25"/><circle cx="418.2" cy="66.0" r="2.25"/><circle cx="429.9" cy="121.2" r="2.25"/><circle cx="347.2" cy="146.9" r="2.25"/><circle cx="454.7" cy="53.6" r="2.25"/><circle cx="384.0" cy="135.7" r="2.25"/><circle cx="424.7" cy="58.1" r="2.25"/><circle cx="409.6" cy="110.1" r="2.25"/><circle cx="335.7" cy="156.3" r="2.25"/><circle cx="411.8" cy="81.9" r="2.25"/><circle cx="428.9" cy="98.8" r="2.25"/><circle cx="475.2" cy="63.9" r="2.25"/><circle cx="444.2" cy="70.9" r="2.25"/><circle cx="403.9" cy="135.7" r="2.25"/><circle cx="451.1" cy="80.9" r="2.25"/><circle cx="470.3" cy="68.3" r="2.25"/><circle cx="435.1" cy="94.3" r="2.25"/><circle cx="425.6" cy="51.3" r="2.25"/><circle cx="419.9" cy="96.3" r="2.25"/><circle cx="354.3" cy="148.8" r="2.25"/><circle cx="485.8" cy="63.5" r="2.25"/><circle cx="339.4" cy="152.7" r="2.25"/><circle cx="429.3" cy="70.7" r="2.25"/><circle cx="343.9" cy="162.8" r="2.25"/><circle cx="426.1" cy="85.2" r="2.25"/><circle cx="464.8" cy="61.9" r="2.25"/><circle cx="440.3" cy="88.1" r="2.25"/><circle cx="383.9" cy="104.2" r="2.25"/><circle cx="393.2" cy="130.4" r="2.25"/><circle cx="415.7" cy="87.2" r="2.25"/><circle cx="364.1" cy="146.3" r="2.25"/><circle cx="457.8" cy="77.8" r="2.25"/><circle cx="479.0" cy="56.2" r="2.25"/><circle cx="399.5" cy="113.0" r="2.25"/><circle cx="394.8" cy="136.8" r="2.25"/><circle cx="433.6" cy="59.0" r="2.25"/><circle cx="431.3" cy="38.0" r="2.25"/><circle cx="438.0" cy="113.8" r="2.25"/><circle cx="404.5" cy="95.9" r="2.25"/><circle cx="350.6" cy="156.9" r="2.25"/><circle cx="451.9" cy="89.5" r="2.25"/><circle cx="466.8" cy="97.8" r="2.25"/><circle cx="474.2" cy="43.3" r="2.25"/><circle cx="383.7" cy="109.4" r="2.25"/><circle cx="418.4" cy="110.8" r="2.25"/><circle cx="420.2" cy="55.9" r="2.25"/><circle cx="430.1" cy="113.7" r="2.25"/><circle cx="411.3" cy="133.6" r="2.25"/><circle cx="446.5" cy="27.9" r="2.25"/><circle cx="465.3" cy="49.8" r="2.25"/><circle cx="478.4" cy="60.4" r="2.25"/><circle cx="452.0" cy="58.7" r="2.25"/><circle cx="409.8" cy="130.6" r="2.25"/><circle cx="480.3" cy="85.8" r="2.25"/><circle cx="333.4" cy="158.3" r="2.25"/><circle cx="416.4" cy="75.5" r="2.25"/><circle cx="346.2" cy="160.7" r="2.25"/><circle cx="410.7" cy="114.7" r="2.25"/><circle cx="361.0" cy="129.2" r="2.25"/><circle cx="383.8" cy="115.1" r="2.25"/><circle cx="432.1" cy="111.6" r="2.25"/><circle cx="417.5" cy="127.7" r="2.25"/><circle cx="460.8" cy="69.8" r="2.25"/><circle cx="447.5" cy="49.8" r="2.25"/><circle cx="449.4" cy="56.1" r="2.25"/><circle cx="420.0" cy="123.3" r="2.25"/><circle cx="418.2" cy="102.9" r="2.25"/><circle cx="381.8" cy="132.5" r="2.25"/><circle cx="419.2" cy="63.1" r="2.25"/><circle cx="429.9" cy="101.6" r="2.25"/><circle cx="481.6" cy="61.8" r="2.25"/><circle cx="359.0" cy="127.7" r="2.25"/><circle cx="386.4" cy="128.5" r="2.25"/><circle cx="364.1" cy="143.8" r="2.25"/><circle cx="418.2" cy="68.9" r="2.25"/><circle cx="451.3" cy="67.7" r="2.25"/><circle cx="375.3" cy="145.2" r="2.25"/><circle cx="461.1" cy="99.9" r="2.25"/><circle cx="469.1" cy="80.1" r="2.25"/><circle cx="485.6" cy="78.8" r="2.25"/><circle cx="446.4" cy="61.3" r="2.25"/><circle cx="420.1" cy="116.7" r="2.25"/><circle cx="445.0" cy="106.8" r="2.25"/><circle cx="436.8" cy="116.6" r="2.25"/><circle cx="352.5" cy="143.3" r="2.25"/><circle cx="456.7" cy="84.1" r="2.25"/><circle cx="438.1" cy="89.3" r="2.25"/><circle cx="453.3" cy="33.0" r="2.25"/><circle cx="415.2" cy="101.8" r="2.25"/><circle cx="413.4" cy="94.0" r="2.25"/><circle cx="357.7" cy="136.9" r="2.25"/><circle cx="421.6" cy="78.8" r="2.25"/><circle cx="432.3" cy="100.2" r="2.25"/><circle cx="439.7" cy="69.9" r="2.25"/><circle cx="418.8" cy="94.0" r="2.25"/><circle cx="379.2" cy="122.3" r="2.25"/><circle cx="458.3" cy="28.4" r="2.25"/><circle cx="434.5" cy="127.2" r="2.25"/><circle cx="446.9" cy="39.7" r="2.25"/><circle cx="442.1" cy="105.6" r="2.25"/><circle cx="435.5" cy="78.7" r="2.25"/><circle cx="405.7" cy="138.3" r="2.25"/><circle cx="450.0" cy="108.3" r="2.25"/><circle cx="441.2" cy="30.0" r="2.25"/><circle cx="455.9" cy="105.7" r="2.25"/><circle cx="415.8" cy="71.8" r="2.25"/><circle cx="334.5" cy="163.4" r="2.25"/><circle cx="432.9" cy="120.1" r="2.25"/><circle cx="443.1" cy="75.8" r="2.25"/><circle cx="400.9" cy="96.0" r="2.25"/><circle cx="375.9" cy="112.3" r="2.25"/><circle cx="407.6" cy="96.3" r="2.25"/><circle cx="448.0" cy="65.5" r="2.25"/><circle cx="415.9" cy="93.2" r="2.25"/><circle cx="355.9" cy="156.6" r="2.25"/><circle cx="387.5" cy="124.0" r="2.25"/><circle cx="467.2" cy="46.1" r="2.25"/><circle cx="475.5" cy="52.7" r="2.25"/><circle cx="431.8" cy="87.0" r="2.25"/><circle cx="456.7" cy="72.0" r="2.25"/><circle cx="431.3" cy="109.3" r="2.25"/><circle cx="459.4" cy="49.1" r="2.25"/><circle cx="391.1" cy="124.4" r="2.25"/><circle cx="472.4" cy="70.9" r="2.25"/><circle cx="428.7" cy="127.6" r="2.25"/><circle cx="445.8" cy="44.6" r="2.25"/><circle cx="474.7" cy="76.2" r="2.25"/><circle cx="361.0" cy="151.2" r="2.25"/><circle cx="455.6" cy="32.2" r="2.25"/><circle cx="356.1" cy="152.2" r="2.25"/><circle cx="381.4" cy="128.2" r="2.25"/><circle cx="450.9" cy="87.2" r="2.25"/><circle cx="366.4" cy="120.9" r="2.25"/><circle cx="415.4" cy="124.1" r="2.25"/><circle cx="413.9" cy="110.3" r="2.25"/><circle cx="344.2" cy="146.9" r="2.25"/><circle cx="445.6" cy="79.3" r="2.25"/><circle cx="390.7" cy="115.6" r="2.25"/><circle cx="447.9" cy="87.6" r="2.25"/><circle cx="456.2" cy="95.0" r="2.25"/><circle cx="363.2" cy="127.8" r="2.25"/><circle cx="465.2" cy="89.1" r="2.25"/><circle cx="481.1" cy="83.1" r="2.25"/><circle cx="461.2" cy="66.8" r="2.25"/><circle cx="462.4" cy="55.0" r="2.25"/><circle cx="458.4" cy="64.3" r="2.25"/><circle cx="406.6" cy="130.9" r="2.25"/><circle cx="435.2" cy="81.3" r="2.25"/><circle cx="467.1" cy="40.0" r="2.25"/><circle cx="402.8" cy="100.1" r="2.25"/><circle cx="469.3" cy="83.2" r="2.25"/><circle cx="441.0" cy="56.8" r="2.25"/><circle cx="417.0" cy="80.9" r="2.25"/><circle cx="437.1" cy="54.2" r="2.25"/><circle cx="457.4" cy="101.2" r="2.25"/><circle cx="439.1" cy="84.4" r="2.25"/><circle cx="454.1" cy="83.7" r="2.25"/><circle cx="446.3" cy="89.4" r="2.25"/><circle cx="408.1" cy="128.4" r="2.25"/><circle cx="378.6" cy="108.5" r="2.25"/><circle cx="454.7" cy="29.2" r="2.25"/><circle cx="417.7" cy="85.9" r="2.25"/><circle cx="435.8" cy="58.1" r="2.25"/><circle cx="433.2" cy="64.1" r="2.25"/><circle cx="408.3" cy="91.0" r="2.25"/><circle cx="373.3" cy="133.2" r="2.25"/><circle cx="405.4" cy="87.7" r="2.25"/><circle cx="404.5" cy="109.9" r="2.25"/><circle cx="375.0" cy="138.5" r="2.25"/><circle cx="449.1" cy="70.5" r="2.25"/><circle cx="340.5" cy="137.6" r="2.25"/><circle cx="449.7" cy="17.0" r="2.25"/><circle cx="383.2" cy="152.7" r="2.25"/><circle cx="336.0" cy="150.0" r="2.25"/><circle cx="346.0" cy="146.0" r="2.25"/><circle cx="417.0" cy="38.5" r="2.25"/><circle cx="410.0" cy="57.0" r="2.25"/></g>
<line x1="331.0" y1="164.0" x2="514.6" y2="47.1" stroke="#f41414" stroke-width="1.9"/>
<rect x="314.0" y="10.2" width="223.5" height="176.2" fill="none" stroke="#555" stroke-width="1.3"/>
<path d="M331.2 186.4v-3 M365.6 186.4v-3 M400.0 186.4v-3 M434.3 186.4v-3 M468.7 186.4v-3 M503.1 186.4v-3 M537.5 186.4v-3 M314.0 164.4h3 M314.0 120.3h3 M314.0 76.3h3 M314.0 32.2h3" stroke="#555" stroke-width="1.2" fill="none"/>
<g font-family="'Liberation Serif','Times New Roman',serif" font-size="11.5" fill="#111" stroke="#111" stroke-width="0.12"><text x="331.2" y="199.6" text-anchor="middle">0</text><text x="365.6" y="199.6" text-anchor="middle">10</text><text x="400.0" y="199.6" text-anchor="middle">20</text><text x="434.3" y="199.6" text-anchor="middle">30</text><text x="468.7" y="199.6" text-anchor="middle">40</text><text x="503.1" y="199.6" text-anchor="middle">50</text><text x="537.5" y="199.6" text-anchor="middle">60</text><text x="310.5" y="168.2" text-anchor="end">0</text><text x="310.5" y="124.1" text-anchor="end">20</text><text x="310.5" y="80.1" text-anchor="end">40</text><text x="310.5" y="36.0" text-anchor="end">60</text></g>
<text font-family="'Liberation Serif','Times New Roman',serif" font-size="15.2" fill="#111" stroke="#111" stroke-width="0.3" x="425.8" y="220.9" text-anchor="middle">Repetition Ratio(%)</text>
<text font-family="'Liberation Serif','Times New Roman',serif" font-size="15.0" fill="#111" stroke="#111" stroke-width="0.3" transform="translate(292.6,98.3) rotate(-90)" text-anchor="middle">Estimated Repetition Ratio(%)</text>
<g font-family="'Liberation Serif','Times New Roman',serif" font-size="11.8" fill="#111" stroke="#111" stroke-width="0.12"><text x="325.0" y="28.7">(B)</text><text x="325.0" y="44.7">y=1.082x−0.015</text><text x="325.0" y="60.7">RMSE=3.462</text><text x="325.0" y="77.4">R<tspan font-size="7.5" dy="-4.5">2</tspan><tspan dy="4.5">=0.815</tspan></text></g>
<g fill="#068080"><circle cx="77.2" cy="387.8" r="2.25"/><circle cx="75.8" cy="380.8" r="2.25"/><circle cx="81.9" cy="386.3" r="2.25"/><circle cx="101.2" cy="383.1" r="2.25"/><circle cx="119.1" cy="350.4" r="2.25"/><circle cx="115.5" cy="369.7" r="2.25"/><circle cx="104.4" cy="388.0" r="2.25"/><circle cx="128.4" cy="339.4" r="2.25"/><circle cx="122.9" cy="371.1" r="2.25"/><circle cx="78.7" cy="372.0" r="2.25"/><circle cx="101.1" cy="368.3" r="2.25"/><circle cx="103.3" cy="360.7" r="2.25"/><circle cx="111.3" cy="349.7" r="2.25"/><circle cx="115.3" cy="350.8" r="2.25"/><circle cx="123.7" cy="360.0" r="2.25"/><circle cx="91.7" cy="389.3" r="2.25"/><circle cx="89.7" cy="370.0" r="2.25"/><circle cx="116.3" cy="367.9" r="2.25"/><circle cx="74.1" cy="379.8" r="2.25"/><circle cx="126.7" cy="363.8" r="2.25"/><circle cx="110.5" cy="365.8" r="2.25"/><circle cx="114.8" cy="367.4" r="2.25"/><circle cx="91.5" cy="368.9" r="2.25"/><circle cx="96.6" cy="369.1" r="2.25"/><circle cx="107.1" cy="378.3" r="2.25"/><circle cx="77.8" cy="391.5" r="2.25"/><circle cx="97.8" cy="379.6" r="2.25"/><circle cx="124.8" cy="369.6" r="2.25"/><circle cx="82.2" cy="379.2" r="2.25"/><circle cx="107.6" cy="359.4" r="2.25"/><circle cx="101.5" cy="380.7" r="2.25"/><circle cx="111.0" cy="355.5" r="2.25"/><circle cx="74.0" cy="379.2" r="2.25"/><circle cx="77.2" cy="385.8" r="2.25"/><circle cx="116.4" cy="353.4" r="2.25"/><circle cx="126.5" cy="358.3" r="2.25"/><circle cx="123.4" cy="353.2" r="2.25"/><circle cx="128.2" cy="342.3" r="2.25"/><circle cx="117.9" cy="346.6" r="2.25"/><circle cx="80.1" cy="374.6" r="2.25"/><circle cx="97.7" cy="381.8" r="2.25"/><circle cx="82.1" cy="385.4" r="2.25"/><circle cx="91.6" cy="371.8" r="2.25"/><circle cx="117.8" cy="352.2" r="2.25"/><circle cx="93.0" cy="381.9" r="2.25"/><circle cx="122.8" cy="348.1" r="2.25"/><circle cx="125.6" cy="364.3" r="2.25"/><circle cx="122.2" cy="369.1" r="2.25"/><circle cx="98.1" cy="374.1" r="2.25"/><circle cx="111.8" cy="377.0" r="2.25"/><circle cx="115.6" cy="379.3" r="2.25"/><circle cx="128.0" cy="355.3" r="2.25"/><circle cx="117.4" cy="359.1" r="2.25"/><circle cx="115.7" cy="370.8" r="2.25"/><circle cx="96.5" cy="385.0" r="2.25"/><circle cx="95.0" cy="368.2" r="2.25"/><circle cx="123.4" cy="376.4" r="2.25"/><circle cx="100.5" cy="388.9" r="2.25"/><circle cx="85.0" cy="390.3" r="2.25"/><circle cx="124.9" cy="344.7" r="2.25"/><circle cx="92.1" cy="369.0" r="2.25"/><circle cx="128.2" cy="337.6" r="2.25"/><circle cx="128.6" cy="344.5" r="2.25"/><circle cx="84.2" cy="376.6" r="2.25"/><circle cx="91.3" cy="365.4" r="2.25"/><circle cx="114.8" cy="363.8" r="2.25"/><circle cx="110.4" cy="369.2" r="2.25"/><circle cx="113.8" cy="371.8" r="2.25"/><circle cx="111.0" cy="356.3" r="2.25"/><circle cx="128.1" cy="337.7" r="2.25"/><circle cx="125.8" cy="366.4" r="2.25"/><circle cx="73.9" cy="390.3" r="2.25"/><circle cx="72.7" cy="384.3" r="2.25"/><circle cx="92.6" cy="377.6" r="2.25"/><circle cx="89.8" cy="385.4" r="2.25"/><circle cx="83.4" cy="372.4" r="2.25"/><circle cx="95.6" cy="372.1" r="2.25"/><circle cx="122.2" cy="351.9" r="2.25"/><circle cx="119.4" cy="367.4" r="2.25"/><circle cx="98.6" cy="389.7" r="2.25"/><circle cx="113.9" cy="358.3" r="2.25"/><circle cx="123.0" cy="370.7" r="2.25"/><circle cx="92.1" cy="374.0" r="2.25"/><circle cx="125.6" cy="366.3" r="2.25"/><circle cx="111.8" cy="366.3" r="2.25"/><circle cx="112.5" cy="375.3" r="2.25"/><circle cx="124.1" cy="341.1" r="2.25"/><circle cx="107.8" cy="374.3" r="2.25"/><circle cx="104.2" cy="372.3" r="2.25"/><circle cx="114.6" cy="373.3" r="2.25"/><circle cx="95.2" cy="362.4" r="2.25"/><circle cx="110.8" cy="367.7" r="2.25"/><circle cx="123.0" cy="354.5" r="2.25"/><circle cx="84.1" cy="387.5" r="2.25"/><circle cx="104.0" cy="379.3" r="2.25"/><circle cx="103.1" cy="359.6" r="2.25"/><circle cx="119.5" cy="364.1" r="2.25"/><circle cx="74.8" cy="377.4" r="2.25"/><circle cx="89.2" cy="379.3" r="2.25"/><circle cx="81.8" cy="373.6" r="2.25"/><circle cx="117.0" cy="368.2" r="2.25"/><circle cx="72.4" cy="391.3" r="2.25"/><circle cx="81.5" cy="386.1" r="2.25"/><circle cx="92.7" cy="378.5" r="2.25"/><circle cx="93.0" cy="392.9" r="2.25"/><circle cx="119.8" cy="356.5" r="2.25"/><circle cx="124.9" cy="341.7" r="2.25"/><circle cx="97.7" cy="374.5" r="2.25"/><circle cx="87.8" cy="391.7" r="2.25"/><circle cx="84.8" cy="385.2" r="2.25"/><circle cx="127.6" cy="374.4" r="2.25"/><circle cx="99.7" cy="379.4" r="2.25"/><circle cx="106.3" cy="362.0" r="2.25"/><circle cx="120.9" cy="369.6" r="2.25"/><circle cx="118.2" cy="347.4" r="2.25"/><circle cx="103.9" cy="383.2" r="2.25"/><circle cx="119.1" cy="352.8" r="2.25"/><circle cx="96.1" cy="367.3" r="2.25"/><circle cx="82.5" cy="380.6" r="2.25"/><circle cx="127.4" cy="368.9" r="2.25"/><circle cx="103.4" cy="387.0" r="2.25"/><circle cx="115.1" cy="376.9" r="2.25"/><circle cx="112.8" cy="380.3" r="2.25"/><circle cx="120.4" cy="351.0" r="2.25"/><circle cx="79.6" cy="388.7" r="2.25"/><circle cx="97.4" cy="367.7" r="2.25"/><circle cx="80.0" cy="390.3" r="2.25"/><circle cx="127.6" cy="359.4" r="2.25"/><circle cx="102.1" cy="380.7" r="2.25"/><circle cx="116.7" cy="378.5" r="2.25"/><circle cx="113.4" cy="354.6" r="2.25"/><circle cx="123.4" cy="374.3" r="2.25"/><circle cx="121.0" cy="355.1" r="2.25"/><circle cx="114.8" cy="376.5" r="2.25"/><circle cx="125.1" cy="340.7" r="2.25"/><circle cx="84.0" cy="391.4" r="2.25"/><circle cx="82.1" cy="378.8" r="2.25"/><circle cx="101.3" cy="362.7" r="2.25"/><circle cx="120.6" cy="361.9" r="2.25"/><circle cx="128.3" cy="369.6" r="2.25"/><circle cx="90.0" cy="380.9" r="2.25"/><circle cx="127.3" cy="360.8" r="2.25"/><circle cx="107.1" cy="366.6" r="2.25"/><circle cx="95.6" cy="367.3" r="2.25"/><circle cx="113.3" cy="357.7" r="2.25"/><circle cx="76.7" cy="385.4" r="2.25"/><circle cx="90.8" cy="371.4" r="2.25"/><circle cx="93.0" cy="372.3" r="2.25"/><circle cx="110.4" cy="380.8" r="2.25"/><circle cx="96.4" cy="389.2" r="2.25"/><circle cx="86.3" cy="385.0" r="2.25"/><circle cx="115.9" cy="361.7" r="2.25"/><circle cx="107.1" cy="364.2" r="2.25"/><circle cx="128.5" cy="359.1" r="2.25"/><circle cx="125.8" cy="346.9" r="2.25"/><circle cx="96.1" cy="393.0" r="2.25"/><circle cx="84.3" cy="367.7" r="2.25"/><circle cx="120.9" cy="355.5" r="2.25"/><circle cx="81.1" cy="374.3" r="2.25"/><circle cx="125.8" cy="366.2" r="2.25"/><circle cx="88.9" cy="390.1" r="2.25"/><circle cx="112.4" cy="375.5" r="2.25"/><circle cx="100.1" cy="385.7" r="2.25"/><circle cx="120.8" cy="349.7" r="2.25"/><circle cx="111.4" cy="365.1" r="2.25"/><circle cx="113.6" cy="354.9" r="2.25"/><circle cx="127.0" cy="372.6" r="2.25"/><circle cx="124.7" cy="339.7" r="2.25"/><circle cx="111.9" cy="377.8" r="2.25"/><circle cx="105.3" cy="376.2" r="2.25"/><circle cx="92.9" cy="378.4" r="2.25"/><circle cx="103.9" cy="378.9" r="2.25"/><circle cx="97.5" cy="367.4" r="2.25"/><circle cx="101.2" cy="377.2" r="2.25"/><circle cx="95.8" cy="374.6" r="2.25"/><circle cx="83.9" cy="386.2" r="2.25"/><circle cx="81.2" cy="380.7" r="2.25"/><circle cx="80.7" cy="385.9" r="2.25"/><circle cx="106.1" cy="372.7" r="2.25"/><circle cx="94.8" cy="371.8" r="2.25"/><circle cx="119.4" cy="369.3" r="2.25"/><circle cx="89.0" cy="379.4" r="2.25"/><circle cx="115.0" cy="364.0" r="2.25"/><circle cx="126.5" cy="362.8" r="2.25"/><circle cx="124.7" cy="365.3" r="2.25"/><circle cx="93.8" cy="376.0" r="2.25"/><circle cx="85.7" cy="384.7" r="2.25"/><circle cx="81.9" cy="386.1" r="2.25"/><circle cx="89.3" cy="380.4" r="2.25"/><circle cx="119.7" cy="369.0" r="2.25"/><circle cx="107.6" cy="363.4" r="2.25"/><circle cx="80.4" cy="380.0" r="2.25"/><circle cx="81.5" cy="384.7" r="2.25"/><circle cx="100.0" cy="380.0" r="2.25"/><circle cx="98.9" cy="371.7" r="2.25"/><circle cx="113.1" cy="368.7" r="2.25"/><circle cx="88.7" cy="379.5" r="2.25"/><circle cx="115.9" cy="365.8" r="2.25"/><circle cx="125.5" cy="353.5" r="2.25"/><circle cx="94.5" cy="371.7" r="2.25"/><circle cx="79.1" cy="380.7" r="2.25"/><circle cx="102.0" cy="372.8" r="2.25"/><circle cx="121.2" cy="368.1" r="2.25"/><circle cx="89.3" cy="382.1" r="2.25"/><circle cx="94.5" cy="375.0" r="2.25"/><circle cx="117.5" cy="369.2" r="2.25"/><circle cx="76.7" cy="382.6" r="2.25"/><circle cx="101.4" cy="378.1" r="2.25"/><circle cx="97.0" cy="378.3" r="2.25"/><circle cx="80.8" cy="379.3" r="2.25"/><circle cx="122.2" cy="357.6" r="2.25"/><circle cx="95.8" cy="380.7" r="2.25"/><circle cx="99.1" cy="377.4" r="2.25"/><circle cx="91.1" cy="373.3" r="2.25"/><circle cx="188.5" cy="330.7" r="2.25"/><circle cx="201.9" cy="308.5" r="2.25"/><circle cx="165.1" cy="302.5" r="2.25"/><circle cx="251.1" cy="317.6" r="2.25"/><circle cx="176.7" cy="306.6" r="2.25"/><circle cx="214.5" cy="342.2" r="2.25"/><circle cx="150.1" cy="354.4" r="2.25"/><circle cx="164.2" cy="326.2" r="2.25"/><circle cx="222.4" cy="328.8" r="2.25"/><circle cx="209.6" cy="331.8" r="2.25"/><circle cx="210.9" cy="297.4" r="2.25"/><circle cx="246.6" cy="339.4" r="2.25"/><circle cx="224.2" cy="281.7" r="2.25"/><circle cx="207.8" cy="344.4" r="2.25"/><circle cx="222.0" cy="276.0" r="2.25"/><circle cx="237.0" cy="331.6" r="2.25"/><circle cx="247.9" cy="301.9" r="2.25"/><circle cx="154.8" cy="330.4" r="2.25"/><circle cx="236.2" cy="302.3" r="2.25"/><circle cx="240.8" cy="299.8" r="2.25"/><circle cx="221.2" cy="340.0" r="2.25"/><circle cx="204.6" cy="288.5" r="2.25"/><circle cx="242.6" cy="308.4" r="2.25"/><circle cx="197.3" cy="315.9" r="2.25"/><circle cx="193.7" cy="345.3" r="2.25"/><circle cx="245.8" cy="330.4" r="2.25"/><circle cx="188.3" cy="292.9" r="2.25"/><circle cx="192.1" cy="313.8" r="2.25"/><circle cx="231.0" cy="311.7" r="2.25"/><circle cx="224.1" cy="303.6" r="2.25"/><circle cx="237.0" cy="320.9" r="2.25"/><circle cx="203.4" cy="331.5" r="2.25"/><circle cx="180.5" cy="346.1" r="2.25"/><circle cx="225.5" cy="332.4" r="2.25"/><circle cx="179.2" cy="328.4" r="2.25"/><circle cx="202.4" cy="341.7" r="2.25"/><circle cx="199.7" cy="298.3" r="2.25"/><circle cx="183.8" cy="298.7" r="2.25"/><circle cx="205.8" cy="326.0" r="2.25"/><circle cx="215.4" cy="275.3" r="2.25"/><circle cx="155.3" cy="325.3" r="2.25"/><circle cx="167.6" cy="337.2" r="2.25"/><circle cx="175.5" cy="316.6" r="2.25"/><circle cx="179.8" cy="340.4" r="2.25"/><circle cx="238.8" cy="278.0" r="2.25"/><circle cx="231.7" cy="293.3" r="2.25"/><circle cx="171.4" cy="309.8" r="2.25"/><circle cx="161.9" cy="319.0" r="2.25"/><circle cx="244.8" cy="289.9" r="2.25"/><circle cx="176.8" cy="300.0" r="2.25"/><circle cx="159.7" cy="342.1" r="2.25"/><circle cx="216.1" cy="326.8" r="2.25"/><circle cx="149.7" cy="335.6" r="2.25"/><circle cx="171.2" cy="303.1" r="2.25"/><circle cx="174.9" cy="331.2" r="2.25"/><circle cx="229.3" cy="275.4" r="2.25"/><circle cx="218.3" cy="287.9" r="2.25"/><circle cx="215.0" cy="284.1" r="2.25"/><circle cx="126.1" cy="338.7" r="2.25"/><circle cx="126.2" cy="341.8" r="2.25"/><circle cx="126.9" cy="343.9" r="2.25"/><circle cx="126.6" cy="345.4" r="2.25"/><circle cx="126.7" cy="347.3" r="2.25"/><circle cx="125.0" cy="352.0" r="2.25"/><circle cx="125.8" cy="352.4" r="2.25"/><circle cx="128.0" cy="355.8" r="2.25"/><circle cx="125.7" cy="357.8" r="2.25"/><circle cx="127.2" cy="361.3" r="2.25"/><circle cx="125.7" cy="363.7" r="2.25"/><circle cx="127.1" cy="365.3" r="2.25"/><circle cx="127.0" cy="367.9" r="2.25"/><circle cx="126.0" cy="371.1" r="2.25"/><circle cx="125.0" cy="373.0" r="2.25"/><circle cx="131.7" cy="340.6" r="2.25"/><circle cx="131.4" cy="343.8" r="2.25"/><circle cx="134.0" cy="345.6" r="2.25"/><circle cx="133.2" cy="347.0" r="2.25"/><circle cx="132.7" cy="351.1" r="2.25"/><circle cx="133.7" cy="352.5" r="2.25"/><circle cx="131.2" cy="354.6" r="2.25"/><circle cx="131.5" cy="358.8" r="2.25"/><circle cx="132.0" cy="360.1" r="2.25"/><circle cx="133.1" cy="362.4" r="2.25"/><circle cx="133.9" cy="367.0" r="2.25"/><circle cx="131.7" cy="368.7" r="2.25"/><circle cx="132.2" cy="371.5" r="2.25"/><circle cx="132.0" cy="374.4" r="2.25"/><circle cx="140.7" cy="330.4" r="2.25"/><circle cx="140.8" cy="332.0" r="2.25"/><circle cx="140.4" cy="335.0" r="2.25"/><circle cx="140.0" cy="338.6" r="2.25"/><circle cx="137.3" cy="339.7" r="2.25"/><circle cx="139.5" cy="342.0" r="2.25"/><circle cx="140.2" cy="343.8" r="2.25"/><circle cx="140.2" cy="347.7" r="2.25"/><circle cx="139.6" cy="349.8" r="2.25"/><circle cx="139.1" cy="351.3" r="2.25"/><circle cx="138.4" cy="353.0" r="2.25"/><circle cx="139.1" cy="357.0" r="2.25"/><circle cx="137.0" cy="359.2" r="2.25"/><circle cx="138.2" cy="361.6" r="2.25"/><circle cx="137.6" cy="363.8" r="2.25"/><circle cx="140.4" cy="364.9" r="2.25"/><circle cx="144.1" cy="332.7" r="2.25"/><circle cx="145.3" cy="335.9" r="2.25"/><circle cx="145.2" cy="337.4" r="2.25"/><circle cx="144.8" cy="339.4" r="2.25"/><circle cx="145.4" cy="342.9" r="2.25"/><circle cx="144.3" cy="346.0" r="2.25"/><circle cx="143.1" cy="346.4" r="2.25"/><circle cx="142.4" cy="349.7" r="2.25"/><circle cx="143.3" cy="352.4" r="2.25"/><circle cx="145.7" cy="354.3" r="2.25"/><circle cx="144.9" cy="356.7" r="2.25"/><circle cx="145.1" cy="360.0" r="2.25"/><circle cx="144.0" cy="360.6" r="2.25"/><circle cx="145.8" cy="364.9" r="2.25"/><circle cx="144.5" cy="366.9" r="2.25"/><circle cx="142.0" cy="367.5" r="2.25"/><circle cx="150.4" cy="320.3" r="2.25"/><circle cx="154.6" cy="322.5" r="2.25"/><circle cx="151.7" cy="324.9" r="2.25"/><circle cx="151.5" cy="328.1" r="2.25"/><circle cx="154.6" cy="330.9" r="2.25"/><circle cx="150.4" cy="332.1" r="2.25"/><circle cx="151.7" cy="333.5" r="2.25"/><circle cx="153.4" cy="335.5" r="2.25"/><circle cx="154.5" cy="338.4" r="2.25"/><circle cx="154.3" cy="340.5" r="2.25"/><circle cx="155.1" cy="342.2" r="2.25"/><circle cx="153.7" cy="345.0" r="2.25"/><circle cx="153.2" cy="346.3" r="2.25"/><circle cx="154.0" cy="348.6" r="2.25"/><circle cx="156.4" cy="352.1" r="2.25"/><circle cx="151.8" cy="354.1" r="2.25"/><circle cx="166.8" cy="321.9" r="2.25"/><circle cx="166.2" cy="324.0" r="2.25"/><circle cx="168.4" cy="327.9" r="2.25"/><circle cx="168.4" cy="330.0" r="2.25"/><circle cx="164.6" cy="332.8" r="2.25"/><circle cx="167.5" cy="335.6" r="2.25"/><circle cx="167.2" cy="339.1" r="2.25"/><circle cx="168.0" cy="342.0" r="2.25"/><circle cx="168.4" cy="342.7" r="2.25"/><circle cx="168.2" cy="344.9" r="2.25"/><circle cx="168.3" cy="348.4" r="2.25"/><circle cx="167.9" cy="350.5" r="2.25"/><circle cx="167.3" cy="353.6" r="2.25"/><circle cx="175.2" cy="319.4" r="2.25"/><circle cx="177.7" cy="322.1" r="2.25"/><circle cx="175.2" cy="324.1" r="2.25"/><circle cx="176.8" cy="327.9" r="2.25"/><circle cx="175.3" cy="328.3" r="2.25"/><circle cx="175.8" cy="333.0" r="2.25"/><circle cx="177.2" cy="336.0" r="2.25"/><circle cx="176.6" cy="339.4" r="2.25"/><circle cx="179.3" cy="340.0" r="2.25"/><circle cx="176.6" cy="343.1" r="2.25"/><circle cx="177.3" cy="345.9" r="2.25"/><circle cx="184.7" cy="304.0" r="2.25"/><circle cx="188.0" cy="304.8" r="2.25"/><circle cx="186.1" cy="307.4" r="2.25"/><circle cx="189.1" cy="309.7" r="2.25"/><circle cx="184.6" cy="312.5" r="2.25"/><circle cx="185.0" cy="316.9" r="2.25"/><circle cx="185.0" cy="318.9" r="2.25"/><circle cx="189.6" cy="320.0" r="2.25"/><circle cx="189.8" cy="324.2" r="2.25"/><circle cx="188.0" cy="325.2" r="2.25"/><circle cx="185.5" cy="328.0" r="2.25"/><circle cx="186.6" cy="331.4" r="2.25"/><circle cx="190.6" cy="334.3" r="2.25"/><circle cx="187.3" cy="335.4" r="2.25"/><circle cx="191.0" cy="337.6" r="2.25"/><circle cx="188.8" cy="341.1" r="2.25"/><circle cx="184.3" cy="342.8" r="2.25"/><circle cx="198.7" cy="279.3" r="2.25"/><circle cx="201.7" cy="283.6" r="2.25"/><circle cx="201.9" cy="286.9" r="2.25"/><circle cx="199.7" cy="287.9" r="2.25"/><circle cx="204.4" cy="292.5" r="2.25"/><circle cx="201.1" cy="293.4" r="2.25"/><circle cx="202.6" cy="296.1" r="2.25"/><circle cx="199.8" cy="300.4" r="2.25"/><circle cx="203.0" cy="301.9" r="2.25"/><circle cx="200.5" cy="305.3" r="2.25"/><circle cx="202.7" cy="308.1" r="2.25"/><circle cx="199.4" cy="311.8" r="2.25"/><circle cx="200.7" cy="315.0" r="2.25"/><circle cx="198.0" cy="317.7" r="2.25"/><circle cx="199.4" cy="318.9" r="2.25"/><circle cx="200.6" cy="322.0" r="2.25"/><circle cx="201.8" cy="326.0" r="2.25"/><circle cx="198.9" cy="329.5" r="2.25"/><circle cx="198.3" cy="331.1" r="2.25"/><circle cx="203.7" cy="334.6" r="2.25"/><circle cx="204.2" cy="337.1" r="2.25"/><circle cx="199.2" cy="339.4" r="2.25"/><circle cx="199.2" cy="343.2" r="2.25"/><circle cx="212.3" cy="294.1" r="2.25"/><circle cx="214.6" cy="295.0" r="2.25"/><circle cx="210.2" cy="298.5" r="2.25"/><circle cx="214.4" cy="302.7" r="2.25"/><circle cx="213.5" cy="305.8" r="2.25"/><circle cx="214.6" cy="307.3" r="2.25"/><circle cx="212.2" cy="309.6" r="2.25"/><circle cx="214.4" cy="313.9" r="2.25"/><circle cx="213.9" cy="314.7" r="2.25"/><circle cx="213.3" cy="319.5" r="2.25"/><circle cx="213.5" cy="321.0" r="2.25"/><circle cx="211.1" cy="324.1" r="2.25"/><circle cx="215.2" cy="327.4" r="2.25"/><circle cx="211.2" cy="329.0" r="2.25"/><circle cx="215.4" cy="332.1" r="2.25"/><circle cx="210.0" cy="333.5" r="2.25"/><circle cx="213.0" cy="337.9" r="2.25"/><circle cx="229.0" cy="280.3" r="2.25"/><circle cx="225.5" cy="284.6" r="2.25"/><circle cx="226.4" cy="287.1" r="2.25"/><circle cx="228.1" cy="291.3" r="2.25"/><circle cx="229.2" cy="297.8" r="2.25"/><circle cx="225.5" cy="298.7" r="2.25"/><circle cx="226.5" cy="302.2" r="2.25"/><circle cx="227.6" cy="307.7" r="2.25"/><circle cx="227.3" cy="310.0" r="2.25"/><circle cx="226.2" cy="314.9" r="2.25"/><circle cx="224.7" cy="320.2" r="2.25"/><circle cx="228.6" cy="323.5" r="2.25"/><circle cx="223.9" cy="327.1" r="2.25"/><circle cx="227.0" cy="330.3" r="2.25"/><circle cx="227.9" cy="332.5" r="2.25"/><circle cx="228.3" cy="338.4" r="2.25"/><circle cx="227.5" cy="343.3" r="2.25"/><circle cx="231.0" cy="276.2" r="2.25"/><circle cx="231.0" cy="281.6" r="2.25"/><circle cx="231.3" cy="283.9" r="2.25"/><circle cx="235.1" cy="287.3" r="2.25"/><circle cx="235.6" cy="292.0" r="2.25"/><circle cx="234.8" cy="295.3" r="2.25"/><circle cx="235.8" cy="299.5" r="2.25"/><circle cx="231.4" cy="305.6" r="2.25"/><circle cx="235.6" cy="309.8" r="2.25"/><circle cx="231.1" cy="314.0" r="2.25"/><circle cx="231.5" cy="317.6" r="2.25"/><circle cx="231.8" cy="320.2" r="2.25"/><circle cx="234.6" cy="326.5" r="2.25"/><circle cx="231.4" cy="331.9" r="2.25"/><circle cx="231.6" cy="336.3" r="2.25"/><circle cx="233.4" cy="338.2" r="2.25"/><circle cx="244.5" cy="268.4" r="2.25"/><circle cx="241.8" cy="270.4" r="2.25"/><circle cx="244.8" cy="270.9" r="2.25"/><circle cx="239.4" cy="273.6" r="2.25"/><circle cx="242.2" cy="275.9" r="2.25"/><circle cx="242.1" cy="279.6" r="2.25"/><circle cx="241.9" cy="281.1" r="2.25"/><circle cx="239.0" cy="284.0" r="2.25"/><circle cx="242.7" cy="284.8" r="2.25"/><circle cx="242.1" cy="287.8" r="2.25"/><circle cx="239.6" cy="289.4" r="2.25"/><circle cx="243.7" cy="291.7" r="2.25"/><circle cx="244.7" cy="295.0" r="2.25"/><circle cx="243.4" cy="295.8" r="2.25"/><circle cx="239.6" cy="299.2" r="2.25"/><circle cx="243.4" cy="300.3" r="2.25"/><circle cx="241.3" cy="303.2" r="2.25"/><circle cx="239.7" cy="304.8" r="2.25"/><circle cx="244.8" cy="307.0" r="2.25"/><circle cx="239.3" cy="310.8" r="2.25"/><circle cx="240.4" cy="312.8" r="2.25"/><circle cx="244.8" cy="314.4" r="2.25"/><circle cx="239.1" cy="317.5" r="2.25"/><circle cx="244.1" cy="319.4" r="2.25"/><circle cx="239.3" cy="320.1" r="2.25"/><circle cx="240.8" cy="323.4" r="2.25"/><circle cx="239.9" cy="325.0" r="2.25"/><circle cx="241.3" cy="327.1" r="2.25"/><circle cx="244.8" cy="330.2" r="2.25"/><circle cx="244.2" cy="332.5" r="2.25"/><circle cx="244.0" cy="335.6" r="2.25"/><circle cx="249.4" cy="268.3" r="2.25"/><circle cx="249.8" cy="271.3" r="2.25"/><circle cx="250.7" cy="272.9" r="2.25"/><circle cx="247.8" cy="276.3" r="2.25"/><circle cx="250.1" cy="278.8" r="2.25"/><circle cx="251.4" cy="279.7" r="2.25"/><circle cx="248.0" cy="281.9" r="2.25"/><circle cx="248.6" cy="285.1" r="2.25"/><circle cx="251.8" cy="286.2" r="2.25"/><circle cx="249.7" cy="288.1" r="2.25"/><circle cx="249.3" cy="290.2" r="2.25"/><circle cx="252.4" cy="292.8" r="2.25"/><circle cx="247.6" cy="295.5" r="2.25"/><circle cx="249.8" cy="298.0" r="2.25"/><circle cx="248.9" cy="298.8" r="2.25"/><circle cx="248.0" cy="302.0" r="2.25"/><circle cx="252.4" cy="304.9" r="2.25"/><circle cx="252.0" cy="305.4" r="2.25"/><circle cx="249.4" cy="308.7" r="2.25"/><circle cx="248.9" cy="310.0" r="2.25"/><circle cx="247.9" cy="311.8" r="2.25"/><circle cx="250.8" cy="316.1" r="2.25"/><circle cx="249.0" cy="317.6" r="2.25"/><circle cx="247.8" cy="319.5" r="2.25"/><circle cx="252.2" cy="322.7" r="2.25"/><circle cx="251.8" cy="323.3" r="2.25"/><circle cx="251.8" cy="326.3" r="2.25"/><circle cx="249.9" cy="327.8" r="2.25"/><circle cx="252.3" cy="329.6" r="2.25"/><circle cx="249.8" cy="332.7" r="2.25"/><circle cx="247.9" cy="334.5" r="2.25"/><circle cx="92.4" cy="348.4" r="2.25"/><circle cx="116.1" cy="393.0" r="2.25"/><circle cx="158.0" cy="361.5" r="2.25"/><circle cx="165.3" cy="301.3" r="2.25"/><circle cx="168.9" cy="292.9" r="2.25"/><circle cx="166.5" cy="306.0" r="2.25"/><circle cx="179.7" cy="288.0" r="2.25"/><circle cx="178.5" cy="306.0" r="2.25"/><circle cx="176.0" cy="366.0" r="2.25"/><circle cx="179.7" cy="361.5" r="2.25"/><circle cx="191.7" cy="283.2" r="2.25"/><circle cx="185.7" cy="365.0" r="2.25"/><circle cx="190.5" cy="361.5" r="2.25"/><circle cx="199.0" cy="272.4" r="2.25"/><circle cx="199.0" cy="282.0" r="2.25"/><circle cx="213.9" cy="242.0" r="2.25"/><circle cx="213.0" cy="356.4" r="2.25"/><circle cx="186.7" cy="365.5" r="2.25"/><circle cx="213.7" cy="357.3" r="2.25"/><circle cx="145.5" cy="382.7" r="2.25"/><circle cx="167.3" cy="306.7" r="2.25"/><circle cx="169.3" cy="315.6" r="2.25"/><circle cx="179.1" cy="305.7" r="2.25"/><circle cx="175.2" cy="365.8" r="2.25"/><circle cx="178.1" cy="367.8" r="2.25"/><circle cx="158.5" cy="360.9" r="2.25"/><circle cx="144.7" cy="370.7" r="2.25"/></g>
<line x1="70.0" y1="387.3" x2="250.5" y2="297.9" stroke="#f41414" stroke-width="1.9"/>
<rect x="38.6" y="236.0" width="224.4" height="176.3" fill="none" stroke="#555" stroke-width="1.3"/>
<path d="M70.7 412.3v-3 M134.8 412.3v-3 M198.9 412.3v-3 M263.0 412.3v-3 M38.6 392.7h3 M38.6 353.5h3 M38.6 314.4h3 M38.6 275.2h3 M38.6 236.0h3" stroke="#555" stroke-width="1.2" fill="none"/>
<g font-family="'Liberation Serif','Times New Roman',serif" font-size="11.5" fill="#111" stroke="#111" stroke-width="0.12"><text x="70.7" y="425.5" text-anchor="middle">0</text><text x="134.8" y="425.5" text-anchor="middle">20</text><text x="198.9" y="425.5" text-anchor="middle">40</text><text x="263.0" y="425.5" text-anchor="middle">60</text><text x="35.1" y="396.5" text-anchor="end">0</text><text x="35.1" y="357.3" text-anchor="end">20</text><text x="35.1" y="318.2" text-anchor="end">40</text><text x="35.1" y="279.0" text-anchor="end">60</text><text x="35.1" y="239.8" text-anchor="end">80</text></g>
<text font-family="'Liberation Serif','Times New Roman',serif" font-size="15.2" fill="#111" stroke="#111" stroke-width="0.3" x="150.8" y="446.8" text-anchor="middle">Missing Ratio(%)</text>
<text font-family="'Liberation Serif','Times New Roman',serif" font-size="15.0" fill="#111" stroke="#111" stroke-width="0.3" transform="translate(17.2,324.1) rotate(-90)" text-anchor="middle">Estimated Missing Ratio(%)</text>
<g font-family="'Liberation Serif','Times New Roman',serif" font-size="11.8" fill="#111" stroke="#111" stroke-width="0.12"><text x="49.6" y="254.5">(C)</text><text x="49.6" y="270.5">y=0.818x+0.031</text><text x="49.6" y="286.5">RMSE=3.136</text><text x="49.6" y="303.2">R<tspan font-size="7.5" dy="-4.5">2</tspan><tspan dy="4.5">=0.814</tspan></text></g>
<g fill="#068080"><circle cx="384.8" cy="354.4" r="2.25"/><circle cx="392.2" cy="373.6" r="2.25"/><circle cx="384.2" cy="375.7" r="2.25"/><circle cx="350.9" cy="383.7" r="2.25"/><circle cx="389.9" cy="378.1" r="2.25"/><circle cx="411.9" cy="365.7" r="2.25"/><circle cx="389.5" cy="379.6" r="2.25"/><circle cx="390.5" cy="358.4" r="2.25"/><circle cx="385.1" cy="371.0" r="2.25"/><circle cx="405.9" cy="359.4" r="2.25"/><circle cx="397.5" cy="339.8" r="2.25"/><circle cx="389.7" cy="348.3" r="2.25"/><circle cx="409.5" cy="367.2" r="2.25"/><circle cx="374.4" cy="371.4" r="2.25"/><circle cx="404.6" cy="341.4" r="2.25"/><circle cx="357.2" cy="390.7" r="2.25"/><circle cx="412.2" cy="326.7" r="2.25"/><circle cx="361.2" cy="380.7" r="2.25"/><circle cx="386.9" cy="375.6" r="2.25"/><circle cx="407.1" cy="337.3" r="2.25"/><circle cx="402.8" cy="371.6" r="2.25"/><circle cx="361.6" cy="388.8" r="2.25"/><circle cx="363.2" cy="374.1" r="2.25"/><circle cx="387.1" cy="357.4" r="2.25"/><circle cx="413.7" cy="347.9" r="2.25"/><circle cx="412.9" cy="362.0" r="2.25"/><circle cx="407.0" cy="365.2" r="2.25"/><circle cx="390.3" cy="348.2" r="2.25"/><circle cx="409.1" cy="345.3" r="2.25"/><circle cx="411.8" cy="332.4" r="2.25"/><circle cx="401.7" cy="354.0" r="2.25"/><circle cx="371.4" cy="387.5" r="2.25"/><circle cx="388.6" cy="363.4" r="2.25"/><circle cx="361.9" cy="371.5" r="2.25"/><circle cx="408.5" cy="368.1" r="2.25"/><circle cx="416.4" cy="345.3" r="2.25"/><circle cx="373.1" cy="381.5" r="2.25"/><circle cx="398.4" cy="353.3" r="2.25"/><circle cx="369.5" cy="365.1" r="2.25"/><circle cx="389.1" cy="371.7" r="2.25"/><circle cx="397.4" cy="343.9" r="2.25"/><circle cx="386.7" cy="360.8" r="2.25"/><circle cx="397.5" cy="365.9" r="2.25"/><circle cx="352.5" cy="387.2" r="2.25"/><circle cx="384.6" cy="376.5" r="2.25"/><circle cx="396.9" cy="348.1" r="2.25"/><circle cx="400.0" cy="343.7" r="2.25"/><circle cx="411.2" cy="346.3" r="2.25"/><circle cx="405.0" cy="371.9" r="2.25"/><circle cx="410.2" cy="354.8" r="2.25"/><circle cx="367.5" cy="372.3" r="2.25"/><circle cx="394.8" cy="372.2" r="2.25"/><circle cx="399.1" cy="338.6" r="2.25"/><circle cx="416.5" cy="349.5" r="2.25"/><circle cx="361.5" cy="384.1" r="2.25"/><circle cx="413.1" cy="348.5" r="2.25"/><circle cx="412.9" cy="360.1" r="2.25"/><circle cx="401.8" cy="366.1" r="2.25"/><circle cx="406.2" cy="338.5" r="2.25"/><circle cx="373.4" cy="364.1" r="2.25"/><circle cx="397.6" cy="359.2" r="2.25"/><circle cx="400.2" cy="349.8" r="2.25"/><circle cx="378.6" cy="363.2" r="2.25"/><circle cx="408.4" cy="328.2" r="2.25"/><circle cx="408.9" cy="362.5" r="2.25"/><circle cx="393.1" cy="352.6" r="2.25"/><circle cx="405.5" cy="358.4" r="2.25"/><circle cx="399.3" cy="363.1" r="2.25"/><circle cx="348.2" cy="383.6" r="2.25"/><circle cx="406.9" cy="336.4" r="2.25"/><circle cx="409.1" cy="338.6" r="2.25"/><circle cx="386.1" cy="353.3" r="2.25"/><circle cx="391.9" cy="362.6" r="2.25"/><circle cx="384.6" cy="361.1" r="2.25"/><circle cx="386.6" cy="370.3" r="2.25"/><circle cx="413.4" cy="326.6" r="2.25"/><circle cx="391.3" cy="371.8" r="2.25"/><circle cx="390.3" cy="345.5" r="2.25"/><circle cx="398.5" cy="359.7" r="2.25"/><circle cx="413.1" cy="366.0" r="2.25"/><circle cx="384.7" cy="361.1" r="2.25"/><circle cx="389.8" cy="378.6" r="2.25"/><circle cx="404.1" cy="345.6" r="2.25"/><circle cx="409.0" cy="347.7" r="2.25"/><circle cx="413.0" cy="351.0" r="2.25"/><circle cx="397.6" cy="349.2" r="2.25"/><circle cx="392.4" cy="369.9" r="2.25"/><circle cx="393.6" cy="351.2" r="2.25"/><circle cx="402.1" cy="353.7" r="2.25"/><circle cx="412.4" cy="345.1" r="2.25"/><circle cx="412.3" cy="355.1" r="2.25"/><circle cx="387.9" cy="346.5" r="2.25"/><circle cx="392.1" cy="347.6" r="2.25"/><circle cx="406.9" cy="363.9" r="2.25"/><circle cx="363.0" cy="370.2" r="2.25"/><circle cx="386.1" cy="365.5" r="2.25"/><circle cx="408.4" cy="343.4" r="2.25"/><circle cx="403.8" cy="349.9" r="2.25"/><circle cx="405.6" cy="340.6" r="2.25"/><circle cx="413.5" cy="333.0" r="2.25"/><circle cx="366.8" cy="385.9" r="2.25"/><circle cx="381.7" cy="363.5" r="2.25"/><circle cx="407.9" cy="349.2" r="2.25"/><circle cx="400.6" cy="357.0" r="2.25"/><circle cx="388.0" cy="375.0" r="2.25"/><circle cx="401.5" cy="368.1" r="2.25"/><circle cx="377.1" cy="365.1" r="2.25"/><circle cx="415.1" cy="346.0" r="2.25"/><circle cx="387.5" cy="359.7" r="2.25"/><circle cx="375.0" cy="375.6" r="2.25"/><circle cx="373.8" cy="378.0" r="2.25"/><circle cx="390.9" cy="363.6" r="2.25"/><circle cx="375.9" cy="361.4" r="2.25"/><circle cx="388.3" cy="361.5" r="2.25"/><circle cx="395.2" cy="365.6" r="2.25"/><circle cx="399.7" cy="366.3" r="2.25"/><circle cx="402.9" cy="338.4" r="2.25"/><circle cx="375.4" cy="369.4" r="2.25"/><circle cx="399.9" cy="360.7" r="2.25"/><circle cx="412.5" cy="354.3" r="2.25"/><circle cx="408.7" cy="347.6" r="2.25"/><circle cx="406.0" cy="334.6" r="2.25"/><circle cx="405.6" cy="330.1" r="2.25"/><circle cx="415.0" cy="322.1" r="2.25"/><circle cx="363.8" cy="373.3" r="2.25"/><circle cx="413.7" cy="326.5" r="2.25"/><circle cx="412.6" cy="323.4" r="2.25"/><circle cx="373.0" cy="368.3" r="2.25"/><circle cx="354.1" cy="389.7" r="2.25"/><circle cx="403.9" cy="367.7" r="2.25"/><circle cx="411.4" cy="363.3" r="2.25"/><circle cx="399.4" cy="356.0" r="2.25"/><circle cx="413.5" cy="329.9" r="2.25"/><circle cx="408.6" cy="334.3" r="2.25"/><circle cx="389.3" cy="353.9" r="2.25"/><circle cx="411.0" cy="363.6" r="2.25"/><circle cx="413.6" cy="327.3" r="2.25"/><circle cx="409.8" cy="369.0" r="2.25"/><circle cx="386.5" cy="373.3" r="2.25"/><circle cx="382.8" cy="365.5" r="2.25"/><circle cx="385.3" cy="353.1" r="2.25"/><circle cx="401.3" cy="342.6" r="2.25"/><circle cx="411.3" cy="336.1" r="2.25"/><circle cx="391.0" cy="351.3" r="2.25"/><circle cx="411.3" cy="330.9" r="2.25"/><circle cx="379.6" cy="374.5" r="2.25"/><circle cx="384.7" cy="360.5" r="2.25"/><circle cx="405.2" cy="339.3" r="2.25"/><circle cx="391.1" cy="373.7" r="2.25"/><circle cx="372.3" cy="383.9" r="2.25"/><circle cx="366.0" cy="374.8" r="2.25"/><circle cx="355.2" cy="378.8" r="2.25"/><circle cx="375.9" cy="368.9" r="2.25"/><circle cx="398.2" cy="367.6" r="2.25"/><circle cx="372.8" cy="364.0" r="2.25"/><circle cx="350.2" cy="391.5" r="2.25"/><circle cx="370.0" cy="384.1" r="2.25"/><circle cx="390.1" cy="348.0" r="2.25"/><circle cx="389.3" cy="365.1" r="2.25"/><circle cx="412.5" cy="334.4" r="2.25"/><circle cx="409.4" cy="348.6" r="2.25"/><circle cx="359.1" cy="376.9" r="2.25"/><circle cx="357.0" cy="384.7" r="2.25"/><circle cx="371.5" cy="389.9" r="2.25"/><circle cx="410.4" cy="337.2" r="2.25"/><circle cx="391.7" cy="349.6" r="2.25"/><circle cx="406.3" cy="355.6" r="2.25"/><circle cx="398.6" cy="350.4" r="2.25"/><circle cx="395.0" cy="344.1" r="2.25"/><circle cx="376.4" cy="382.1" r="2.25"/><circle cx="408.3" cy="366.5" r="2.25"/><circle cx="365.7" cy="383.1" r="2.25"/><circle cx="372.7" cy="362.1" r="2.25"/><circle cx="373.5" cy="367.6" r="2.25"/><circle cx="390.1" cy="362.8" r="2.25"/><circle cx="382.9" cy="384.2" r="2.25"/><circle cx="416.4" cy="342.0" r="2.25"/><circle cx="400.5" cy="351.2" r="2.25"/><circle cx="398.8" cy="369.4" r="2.25"/><circle cx="410.3" cy="358.6" r="2.25"/><circle cx="374.2" cy="380.8" r="2.25"/><circle cx="374.0" cy="372.0" r="2.25"/><circle cx="355.7" cy="378.2" r="2.25"/><circle cx="377.8" cy="363.4" r="2.25"/><circle cx="386.0" cy="375.8" r="2.25"/><circle cx="380.1" cy="365.9" r="2.25"/><circle cx="408.5" cy="368.6" r="2.25"/><circle cx="405.8" cy="334.6" r="2.25"/><circle cx="376.3" cy="381.4" r="2.25"/><circle cx="369.2" cy="381.0" r="2.25"/><circle cx="363.2" cy="375.2" r="2.25"/><circle cx="379.0" cy="365.6" r="2.25"/><circle cx="400.5" cy="350.7" r="2.25"/><circle cx="382.9" cy="383.7" r="2.25"/><circle cx="352.0" cy="386.4" r="2.25"/><circle cx="415.7" cy="361.1" r="2.25"/><circle cx="414.7" cy="337.5" r="2.25"/><circle cx="373.5" cy="369.4" r="2.25"/><circle cx="363.2" cy="384.4" r="2.25"/><circle cx="358.6" cy="390.5" r="2.25"/><circle cx="397.6" cy="365.0" r="2.25"/><circle cx="409.1" cy="348.5" r="2.25"/><circle cx="415.4" cy="362.4" r="2.25"/><circle cx="403.7" cy="364.1" r="2.25"/><circle cx="387.0" cy="360.8" r="2.25"/><circle cx="409.5" cy="336.8" r="2.25"/><circle cx="397.4" cy="350.3" r="2.25"/><circle cx="395.0" cy="349.6" r="2.25"/><circle cx="395.5" cy="370.9" r="2.25"/><circle cx="378.0" cy="364.7" r="2.25"/><circle cx="390.6" cy="371.8" r="2.25"/><circle cx="378.6" cy="376.2" r="2.25"/><circle cx="387.5" cy="375.8" r="2.25"/><circle cx="405.6" cy="347.8" r="2.25"/><circle cx="398.4" cy="357.6" r="2.25"/><circle cx="401.1" cy="352.8" r="2.25"/><circle cx="409.2" cy="360.8" r="2.25"/><circle cx="394.1" cy="357.6" r="2.25"/><circle cx="396.3" cy="341.4" r="2.25"/><circle cx="407.7" cy="352.1" r="2.25"/><circle cx="409.6" cy="341.5" r="2.25"/><circle cx="378.8" cy="376.6" r="2.25"/><circle cx="379.5" cy="367.1" r="2.25"/><circle cx="405.9" cy="364.8" r="2.25"/><circle cx="377.2" cy="359.2" r="2.25"/><circle cx="351.5" cy="390.0" r="2.25"/><circle cx="393.0" cy="373.1" r="2.25"/><circle cx="405.7" cy="357.7" r="2.25"/><circle cx="370.0" cy="372.8" r="2.25"/><circle cx="400.8" cy="373.3" r="2.25"/><circle cx="392.8" cy="368.9" r="2.25"/><circle cx="380.6" cy="355.6" r="2.25"/><circle cx="406.6" cy="358.2" r="2.25"/><circle cx="370.5" cy="383.9" r="2.25"/><circle cx="381.1" cy="378.2" r="2.25"/><circle cx="395.1" cy="363.0" r="2.25"/><circle cx="381.4" cy="379.1" r="2.25"/><circle cx="384.8" cy="377.5" r="2.25"/><circle cx="359.2" cy="373.5" r="2.25"/><circle cx="409.5" cy="343.5" r="2.25"/><circle cx="412.5" cy="352.1" r="2.25"/><circle cx="404.6" cy="348.6" r="2.25"/><circle cx="382.8" cy="363.6" r="2.25"/><circle cx="387.0" cy="358.3" r="2.25"/><circle cx="395.3" cy="356.7" r="2.25"/><circle cx="380.8" cy="370.3" r="2.25"/><circle cx="390.4" cy="371.4" r="2.25"/><circle cx="402.4" cy="353.2" r="2.25"/><circle cx="400.2" cy="356.0" r="2.25"/><circle cx="411.9" cy="337.8" r="2.25"/><circle cx="379.0" cy="380.3" r="2.25"/><circle cx="385.8" cy="364.6" r="2.25"/><circle cx="388.9" cy="377.0" r="2.25"/><circle cx="393.0" cy="352.3" r="2.25"/><circle cx="399.0" cy="343.2" r="2.25"/><circle cx="405.4" cy="337.1" r="2.25"/><circle cx="401.0" cy="347.5" r="2.25"/><circle cx="410.0" cy="339.6" r="2.25"/><circle cx="414.0" cy="352.5" r="2.25"/><circle cx="408.5" cy="354.8" r="2.25"/><circle cx="414.9" cy="343.2" r="2.25"/><circle cx="354.0" cy="383.6" r="2.25"/><circle cx="409.3" cy="357.5" r="2.25"/><circle cx="384.1" cy="366.1" r="2.25"/><circle cx="372.5" cy="365.1" r="2.25"/><circle cx="398.9" cy="359.8" r="2.25"/><circle cx="373.7" cy="370.6" r="2.25"/><circle cx="369.6" cy="390.2" r="2.25"/><circle cx="391.6" cy="368.9" r="2.25"/><circle cx="359.9" cy="381.3" r="2.25"/><circle cx="378.3" cy="378.4" r="2.25"/><circle cx="383.9" cy="360.0" r="2.25"/><circle cx="394.1" cy="372.5" r="2.25"/><circle cx="409.4" cy="338.1" r="2.25"/><circle cx="414.4" cy="346.5" r="2.25"/><circle cx="352.4" cy="382.8" r="2.25"/><circle cx="369.7" cy="368.8" r="2.25"/><circle cx="391.7" cy="346.7" r="2.25"/><circle cx="395.6" cy="367.7" r="2.25"/><circle cx="412.0" cy="327.5" r="2.25"/><circle cx="367.9" cy="388.2" r="2.25"/><circle cx="399.5" cy="345.9" r="2.25"/><circle cx="363.9" cy="386.8" r="2.25"/><circle cx="388.8" cy="366.4" r="2.25"/><circle cx="383.1" cy="383.5" r="2.25"/><circle cx="369.0" cy="368.9" r="2.25"/><circle cx="374.6" cy="374.7" r="2.25"/><circle cx="359.3" cy="379.7" r="2.25"/><circle cx="382.8" cy="383.2" r="2.25"/><circle cx="369.2" cy="378.1" r="2.25"/><circle cx="379.7" cy="379.2" r="2.25"/><circle cx="366.4" cy="380.9" r="2.25"/><circle cx="365.4" cy="388.0" r="2.25"/><circle cx="369.4" cy="385.5" r="2.25"/><circle cx="362.7" cy="386.9" r="2.25"/><circle cx="378.1" cy="376.9" r="2.25"/><circle cx="355.2" cy="390.7" r="2.25"/><circle cx="382.2" cy="378.9" r="2.25"/><circle cx="381.7" cy="375.4" r="2.25"/><circle cx="349.5" cy="386.7" r="2.25"/><circle cx="358.1" cy="389.5" r="2.25"/><circle cx="361.1" cy="385.4" r="2.25"/><circle cx="379.1" cy="376.8" r="2.25"/><circle cx="366.6" cy="381.0" r="2.25"/><circle cx="372.9" cy="383.3" r="2.25"/><circle cx="357.7" cy="382.6" r="2.25"/><circle cx="358.7" cy="388.8" r="2.25"/><circle cx="372.9" cy="376.1" r="2.25"/><circle cx="378.1" cy="370.9" r="2.25"/><circle cx="354.9" cy="383.6" r="2.25"/><circle cx="350.4" cy="384.9" r="2.25"/><circle cx="354.8" cy="385.9" r="2.25"/><circle cx="367.5" cy="375.8" r="2.25"/><circle cx="376.0" cy="380.7" r="2.25"/><circle cx="354.3" cy="387.9" r="2.25"/><circle cx="370.0" cy="386.9" r="2.25"/><circle cx="362.6" cy="381.2" r="2.25"/><circle cx="349.6" cy="389.9" r="2.25"/><circle cx="377.6" cy="385.4" r="2.25"/><circle cx="398.2" cy="359.1" r="2.25"/><circle cx="381.6" cy="364.2" r="2.25"/><circle cx="398.0" cy="356.3" r="2.25"/><circle cx="408.6" cy="355.8" r="2.25"/><circle cx="351.6" cy="385.5" r="2.25"/><circle cx="409.5" cy="347.7" r="2.25"/><circle cx="400.5" cy="354.3" r="2.25"/><circle cx="371.8" cy="377.1" r="2.25"/><circle cx="413.2" cy="345.7" r="2.25"/><circle cx="364.0" cy="377.8" r="2.25"/><circle cx="393.8" cy="355.4" r="2.25"/><circle cx="366.9" cy="380.9" r="2.25"/><circle cx="383.5" cy="369.9" r="2.25"/><circle cx="384.8" cy="360.7" r="2.25"/><circle cx="376.0" cy="369.1" r="2.25"/><circle cx="416.1" cy="342.5" r="2.25"/><circle cx="415.9" cy="348.9" r="2.25"/><circle cx="360.2" cy="377.8" r="2.25"/><circle cx="402.1" cy="350.0" r="2.25"/><circle cx="394.3" cy="355.5" r="2.25"/><circle cx="369.7" cy="374.9" r="2.25"/><circle cx="375.5" cy="366.1" r="2.25"/><circle cx="404.0" cy="353.0" r="2.25"/><circle cx="368.1" cy="379.2" r="2.25"/><circle cx="389.7" cy="358.1" r="2.25"/><circle cx="359.7" cy="376.4" r="2.25"/><circle cx="401.5" cy="352.4" r="2.25"/><circle cx="385.6" cy="362.1" r="2.25"/><circle cx="396.4" cy="360.2" r="2.25"/><circle cx="369.0" cy="377.9" r="2.25"/><circle cx="393.5" cy="355.2" r="2.25"/><circle cx="377.5" cy="371.7" r="2.25"/><circle cx="355.7" cy="379.0" r="2.25"/><circle cx="350.2" cy="388.1" r="2.25"/><circle cx="414.5" cy="340.9" r="2.25"/><circle cx="396.7" cy="361.7" r="2.25"/><circle cx="403.9" cy="351.6" r="2.25"/><circle cx="385.7" cy="371.0" r="2.25"/><circle cx="353.0" cy="382.2" r="2.25"/><circle cx="375.7" cy="369.1" r="2.25"/><circle cx="386.2" cy="368.0" r="2.25"/><circle cx="417.4" cy="316.1" r="2.25"/><circle cx="423.3" cy="318.5" r="2.25"/><circle cx="420.4" cy="321.6" r="2.25"/><circle cx="419.7" cy="323.6" r="2.25"/><circle cx="417.3" cy="325.7" r="2.25"/><circle cx="421.2" cy="328.8" r="2.25"/><circle cx="419.3" cy="333.1" r="2.25"/><circle cx="421.1" cy="335.3" r="2.25"/><circle cx="418.5" cy="335.7" r="2.25"/><circle cx="416.9" cy="340.3" r="2.25"/><circle cx="417.5" cy="341.1" r="2.25"/><circle cx="421.3" cy="343.8" r="2.25"/><circle cx="418.3" cy="346.7" r="2.25"/><circle cx="416.2" cy="348.7" r="2.25"/><circle cx="419.6" cy="351.6" r="2.25"/><circle cx="416.8" cy="353.6" r="2.25"/><circle cx="419.9" cy="357.9" r="2.25"/><circle cx="417.2" cy="360.1" r="2.25"/><circle cx="417.4" cy="361.7" r="2.25"/><circle cx="430.6" cy="316.7" r="2.25"/><circle cx="431.4" cy="318.0" r="2.25"/><circle cx="430.3" cy="320.0" r="2.25"/><circle cx="431.9" cy="321.2" r="2.25"/><circle cx="428.4" cy="323.5" r="2.25"/><circle cx="427.4" cy="325.7" r="2.25"/><circle cx="427.1" cy="326.7" r="2.25"/><circle cx="429.0" cy="328.9" r="2.25"/><circle cx="432.4" cy="330.2" r="2.25"/><circle cx="429.3" cy="332.2" r="2.25"/><circle cx="430.3" cy="334.8" r="2.25"/><circle cx="429.4" cy="337.0" r="2.25"/><circle cx="428.4" cy="339.2" r="2.25"/><circle cx="426.9" cy="340.1" r="2.25"/><circle cx="431.5" cy="341.8" r="2.25"/><circle cx="432.1" cy="344.0" r="2.25"/><circle cx="431.3" cy="344.8" r="2.25"/><circle cx="428.4" cy="348.1" r="2.25"/><circle cx="429.5" cy="348.8" r="2.25"/><circle cx="429.7" cy="350.9" r="2.25"/><circle cx="427.4" cy="353.7" r="2.25"/><circle cx="429.4" cy="354.7" r="2.25"/><circle cx="439.6" cy="308.3" r="2.25"/><circle cx="441.6" cy="311.1" r="2.25"/><circle cx="443.7" cy="312.4" r="2.25"/><circle cx="443.8" cy="315.5" r="2.25"/><circle cx="440.9" cy="317.4" r="2.25"/><circle cx="443.0" cy="317.8" r="2.25"/><circle cx="440.8" cy="321.1" r="2.25"/><circle cx="438.8" cy="322.4" r="2.25"/><circle cx="439.7" cy="323.6" r="2.25"/><circle cx="442.4" cy="326.3" r="2.25"/><circle cx="440.9" cy="328.5" r="2.25"/><circle cx="439.7" cy="329.0" r="2.25"/><circle cx="440.0" cy="331.2" r="2.25"/><circle cx="440.3" cy="333.9" r="2.25"/><circle cx="441.6" cy="334.7" r="2.25"/><circle cx="442.5" cy="336.1" r="2.25"/><circle cx="441.3" cy="338.8" r="2.25"/><circle cx="439.4" cy="341.1" r="2.25"/><circle cx="440.6" cy="343.2" r="2.25"/><circle cx="442.0" cy="345.1" r="2.25"/><circle cx="443.0" cy="346.8" r="2.25"/><circle cx="441.9" cy="348.7" r="2.25"/><circle cx="443.4" cy="350.6" r="2.25"/><circle cx="455.0" cy="310.8" r="2.25"/><circle cx="450.3" cy="312.6" r="2.25"/><circle cx="451.5" cy="313.8" r="2.25"/><circle cx="455.0" cy="315.7" r="2.25"/><circle cx="451.4" cy="318.4" r="2.25"/><circle cx="452.6" cy="319.8" r="2.25"/><circle cx="449.5" cy="321.1" r="2.25"/><circle cx="452.8" cy="323.2" r="2.25"/><circle cx="453.8" cy="324.2" r="2.25"/><circle cx="451.0" cy="326.9" r="2.25"/><circle cx="452.0" cy="327.2" r="2.25"/><circle cx="452.8" cy="330.2" r="2.25"/><circle cx="451.8" cy="330.5" r="2.25"/><circle cx="449.6" cy="333.2" r="2.25"/><circle cx="452.7" cy="335.2" r="2.25"/><circle cx="455.6" cy="337.0" r="2.25"/><circle cx="452.9" cy="338.1" r="2.25"/><circle cx="452.9" cy="339.6" r="2.25"/><circle cx="449.5" cy="342.0" r="2.25"/><circle cx="450.6" cy="343.7" r="2.25"/><circle cx="462.1" cy="280.7" r="2.25"/><circle cx="461.7" cy="282.3" r="2.25"/><circle cx="467.5" cy="283.8" r="2.25"/><circle cx="461.6" cy="286.3" r="2.25"/><circle cx="462.6" cy="286.5" r="2.25"/><circle cx="467.3" cy="288.6" r="2.25"/><circle cx="466.0" cy="290.9" r="2.25"/><circle cx="463.2" cy="292.5" r="2.25"/><circle cx="462.1" cy="295.5" r="2.25"/><circle cx="465.0" cy="296.1" r="2.25"/><circle cx="461.6" cy="299.1" r="2.25"/><circle cx="464.2" cy="300.5" r="2.25"/><circle cx="461.6" cy="302.2" r="2.25"/><circle cx="462.6" cy="303.6" r="2.25"/><circle cx="463.3" cy="306.4" r="2.25"/><circle cx="464.3" cy="307.1" r="2.25"/><circle cx="467.0" cy="309.5" r="2.25"/><circle cx="464.7" cy="310.4" r="2.25"/><circle cx="466.2" cy="313.7" r="2.25"/><circle cx="464.6" cy="314.8" r="2.25"/><circle cx="461.6" cy="317.5" r="2.25"/><circle cx="466.0" cy="318.2" r="2.25"/><circle cx="466.9" cy="320.5" r="2.25"/><circle cx="463.2" cy="321.3" r="2.25"/><circle cx="465.8" cy="324.8" r="2.25"/><circle cx="466.3" cy="325.6" r="2.25"/><circle cx="464.1" cy="326.8" r="2.25"/><circle cx="466.7" cy="329.1" r="2.25"/><circle cx="461.6" cy="331.6" r="2.25"/><circle cx="461.2" cy="332.2" r="2.25"/><circle cx="464.2" cy="335.4" r="2.25"/><circle cx="472.3" cy="281.6" r="2.25"/><circle cx="475.1" cy="283.2" r="2.25"/><circle cx="478.0" cy="285.7" r="2.25"/><circle cx="473.2" cy="287.2" r="2.25"/><circle cx="475.8" cy="288.2" r="2.25"/><circle cx="473.0" cy="289.7" r="2.25"/><circle cx="475.7" cy="291.2" r="2.25"/><circle cx="480.6" cy="293.0" r="2.25"/><circle cx="480.9" cy="293.7" r="2.25"/><circle cx="479.2" cy="295.8" r="2.25"/><circle cx="473.1" cy="297.0" r="2.25"/><circle cx="472.5" cy="299.7" r="2.25"/><circle cx="474.3" cy="300.6" r="2.25"/><circle cx="474.9" cy="302.4" r="2.25"/><circle cx="478.3" cy="303.8" r="2.25"/><circle cx="479.7" cy="305.8" r="2.25"/><circle cx="479.0" cy="306.2" r="2.25"/><circle cx="474.2" cy="307.8" r="2.25"/><circle cx="473.8" cy="309.1" r="2.25"/><circle cx="473.3" cy="311.8" r="2.25"/><circle cx="474.6" cy="312.7" r="2.25"/><circle cx="477.7" cy="313.6" r="2.25"/><circle cx="478.0" cy="315.8" r="2.25"/><circle cx="474.0" cy="317.5" r="2.25"/><circle cx="477.8" cy="319.1" r="2.25"/><circle cx="491.7" cy="276.4" r="2.25"/><circle cx="490.1" cy="278.6" r="2.25"/><circle cx="485.8" cy="280.6" r="2.25"/><circle cx="492.7" cy="281.1" r="2.25"/><circle cx="485.8" cy="282.3" r="2.25"/><circle cx="486.1" cy="284.5" r="2.25"/><circle cx="485.3" cy="285.0" r="2.25"/><circle cx="488.6" cy="287.7" r="2.25"/><circle cx="487.0" cy="289.3" r="2.25"/><circle cx="489.4" cy="289.7" r="2.25"/><circle cx="492.9" cy="291.6" r="2.25"/><circle cx="493.1" cy="292.3" r="2.25"/><circle cx="491.4" cy="293.9" r="2.25"/><circle cx="488.0" cy="295.7" r="2.25"/><circle cx="493.3" cy="296.7" r="2.25"/><circle cx="491.0" cy="299.3" r="2.25"/><circle cx="485.1" cy="300.2" r="2.25"/><circle cx="483.7" cy="302.1" r="2.25"/><circle cx="485.2" cy="303.8" r="2.25"/><circle cx="487.9" cy="304.9" r="2.25"/><circle cx="485.3" cy="306.1" r="2.25"/><circle cx="484.6" cy="307.2" r="2.25"/><circle cx="491.5" cy="309.0" r="2.25"/><circle cx="490.2" cy="310.5" r="2.25"/><circle cx="492.8" cy="312.5" r="2.25"/><circle cx="490.3" cy="313.7" r="2.25"/><circle cx="486.1" cy="314.5" r="2.25"/><circle cx="492.1" cy="316.8" r="2.25"/><circle cx="486.1" cy="317.2" r="2.25"/><circle cx="493.0" cy="318.8" r="2.25"/><circle cx="509.8" cy="247.6" r="2.25"/><circle cx="507.4" cy="248.4" r="2.25"/><circle cx="508.8" cy="250.5" r="2.25"/><circle cx="505.7" cy="253.8" r="2.25"/><circle cx="504.1" cy="254.6" r="2.25"/><circle cx="509.7" cy="257.0" r="2.25"/><circle cx="508.5" cy="259.1" r="2.25"/><circle cx="507.2" cy="261.9" r="2.25"/><circle cx="507.8" cy="263.3" r="2.25"/><circle cx="505.2" cy="265.1" r="2.25"/><circle cx="506.9" cy="266.4" r="2.25"/><circle cx="504.5" cy="268.7" r="2.25"/><circle cx="507.5" cy="270.4" r="2.25"/><circle cx="504.1" cy="272.1" r="2.25"/><circle cx="504.8" cy="275.0" r="2.25"/><circle cx="505.7" cy="276.8" r="2.25"/><circle cx="508.7" cy="278.4" r="2.25"/><circle cx="508.9" cy="281.1" r="2.25"/><circle cx="509.1" cy="283.6" r="2.25"/><circle cx="507.9" cy="284.9" r="2.25"/><circle cx="505.4" cy="286.7" r="2.25"/><circle cx="509.7" cy="289.1" r="2.25"/><circle cx="505.4" cy="290.3" r="2.25"/><circle cx="504.3" cy="293.7" r="2.25"/><circle cx="506.0" cy="295.4" r="2.25"/><circle cx="505.7" cy="297.3" r="2.25"/><circle cx="505.7" cy="299.0" r="2.25"/><circle cx="507.2" cy="300.9" r="2.25"/><circle cx="508.6" cy="302.7" r="2.25"/><circle cx="507.9" cy="304.2" r="2.25"/><circle cx="509.6" cy="306.3" r="2.25"/><circle cx="506.3" cy="308.5" r="2.25"/><circle cx="508.6" cy="310.2" r="2.25"/><circle cx="506.9" cy="313.2" r="2.25"/><circle cx="430.5" cy="285.8" r="2.25"/><circle cx="429.2" cy="288.7" r="2.25"/><circle cx="428.2" cy="294.5" r="2.25"/><circle cx="427.4" cy="299.3" r="2.25"/><circle cx="430.7" cy="301.4" r="2.25"/><circle cx="431.3" cy="310.0" r="2.25"/><circle cx="427.8" cy="359.3" r="2.25"/><circle cx="429.6" cy="362.9" r="2.25"/><circle cx="431.5" cy="368.4" r="2.25"/><circle cx="440.9" cy="298.0" r="2.25"/><circle cx="443.1" cy="298.8" r="2.25"/><circle cx="441.7" cy="303.0" r="2.25"/><circle cx="453.4" cy="277.0" r="2.25"/><circle cx="455.1" cy="281.9" r="2.25"/><circle cx="450.2" cy="290.8" r="2.25"/><circle cx="449.9" cy="294.2" r="2.25"/><circle cx="451.3" cy="302.4" r="2.25"/><circle cx="450.6" cy="346.1" r="2.25"/><circle cx="450.7" cy="353.6" r="2.25"/><circle cx="451.1" cy="356.1" r="2.25"/><circle cx="453.1" cy="362.9" r="2.25"/><circle cx="452.8" cy="368.5" r="2.25"/><circle cx="465.9" cy="265.3" r="2.25"/><circle cx="461.7" cy="269.2" r="2.25"/><circle cx="464.7" cy="273.6" r="2.25"/><circle cx="473.2" cy="257.0" r="2.25"/><circle cx="480.2" cy="260.4" r="2.25"/><circle cx="477.0" cy="262.3" r="2.25"/><circle cx="472.8" cy="264.6" r="2.25"/><circle cx="472.7" cy="267.7" r="2.25"/><circle cx="480.0" cy="268.7" r="2.25"/><circle cx="478.9" cy="273.3" r="2.25"/><circle cx="478.8" cy="276.2" r="2.25"/><circle cx="473.8" cy="324.3" r="2.25"/><circle cx="472.3" cy="326.6" r="2.25"/><circle cx="480.5" cy="329.6" r="2.25"/><circle cx="476.9" cy="331.3" r="2.25"/><circle cx="474.7" cy="334.3" r="2.25"/><circle cx="488.4" cy="253.3" r="2.25"/><circle cx="485.8" cy="254.7" r="2.25"/><circle cx="492.7" cy="257.6" r="2.25"/><circle cx="486.8" cy="261.1" r="2.25"/><circle cx="490.1" cy="263.7" r="2.25"/><circle cx="491.5" cy="265.6" r="2.25"/><circle cx="491.1" cy="267.0" r="2.25"/><circle cx="485.4" cy="271.1" r="2.25"/><circle cx="488.4" cy="325.2" r="2.25"/><circle cx="488.7" cy="327.8" r="2.25"/><circle cx="487.1" cy="329.7" r="2.25"/><circle cx="361.4" cy="363.6" r="2.25"/><circle cx="371.4" cy="356.4" r="2.25"/><circle cx="375.9" cy="348.2" r="2.25"/><circle cx="384.1" cy="333.6" r="2.25"/><circle cx="373.2" cy="389.0" r="2.25"/><circle cx="382.3" cy="385.5" r="2.25"/><circle cx="409.5" cy="378.2" r="2.25"/><circle cx="426.8" cy="372.7" r="2.25"/><circle cx="396.8" cy="325.5" r="2.25"/><circle cx="403.2" cy="321.8" r="2.25"/><circle cx="410.2" cy="377.6" r="2.25"/><circle cx="426.3" cy="371.8" r="2.25"/><circle cx="420.5" cy="284.6" r="2.25"/><circle cx="433.1" cy="296.0" r="2.25"/><circle cx="433.0" cy="285.7" r="2.25"/><circle cx="444.0" cy="257.0" r="2.25"/><circle cx="444.0" cy="264.0" r="2.25"/><circle cx="450.7" cy="272.7" r="2.25"/><circle cx="461.0" cy="261.3" r="2.25"/><circle cx="477.6" cy="239.6" r="2.25"/><circle cx="480.0" cy="240.8" r="2.25"/><circle cx="504.0" cy="339.5" r="2.25"/><circle cx="510.0" cy="333.5" r="2.25"/><circle cx="433.2" cy="279.6" r="2.25"/><circle cx="430.8" cy="286.4" r="2.25"/><circle cx="442.9" cy="295.3" r="2.25"/><circle cx="450.0" cy="272.4" r="2.25"/><circle cx="452.5" cy="292.9" r="2.25"/></g>
<line x1="347.0" y1="385.4" x2="512.3" y2="288.9" stroke="#f41414" stroke-width="1.9"/>
<rect x="314.2" y="235.5" width="223.8" height="177.1" fill="none" stroke="#555" stroke-width="1.3"/>
<path d="M346.2 412.6v-3 M410.1 412.6v-3 M474.1 412.6v-3 M538.0 412.6v-3 M314.2 392.9h3 M314.2 353.6h3 M314.2 314.2h3 M314.2 274.9h3 M314.2 235.5h3" stroke="#555" stroke-width="1.2" fill="none"/>
<g font-family="'Liberation Serif','Times New Roman',serif" font-size="11.5" fill="#111" stroke="#111" stroke-width="0.12"><text x="346.2" y="425.8" text-anchor="middle">0</text><text x="410.1" y="425.8" text-anchor="middle">20</text><text x="474.1" y="425.8" text-anchor="middle">40</text><text x="538.0" y="425.8" text-anchor="middle">60</text><text x="310.7" y="396.7" text-anchor="end">0</text><text x="310.7" y="357.4" text-anchor="end">20</text><text x="310.7" y="318.0" text-anchor="end">40</text><text x="310.7" y="278.7" text-anchor="end">60</text><text x="310.7" y="239.3" text-anchor="end">80</text></g>
<text font-family="'Liberation Serif','Times New Roman',serif" font-size="15.2" fill="#111" stroke="#111" stroke-width="0.3" x="426.1" y="447.1" text-anchor="middle">Repetition Ratio(%)</text>
<text font-family="'Liberation Serif','Times New Roman',serif" font-size="15.0" fill="#111" stroke="#111" stroke-width="0.3" transform="translate(292.8,324.1) rotate(-90)" text-anchor="middle">Estimated Repetition Ratio(%)</text>
<g font-family="'Liberation Serif','Times New Roman',serif" font-size="11.8" fill="#111" stroke="#111" stroke-width="0.12"><text x="325.2" y="254.0">(D)</text><text x="325.2" y="270.0">y=1.016x+0.005</text><text x="325.2" y="286.0">RMSE=3.865</text><text x="325.2" y="302.7">R<tspan font-size="7.5" dy="-4.5">2</tspan><tspan dy="4.5">=0.798</tspan></text></g>
</svg></body></html>
